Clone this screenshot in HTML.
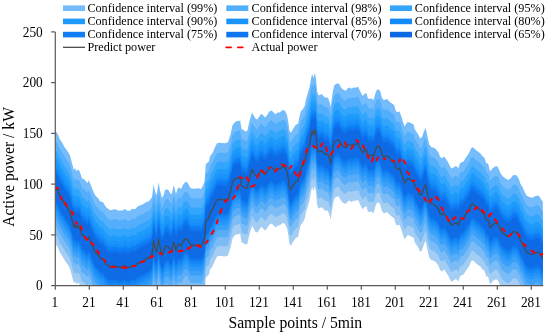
<!DOCTYPE html>
<html><head><meta charset="utf-8"><title>Confidence interval chart</title>
<style>
html,body{margin:0;padding:0;background:#fff;}
body{width:550px;height:335px;overflow:hidden;}
svg{display:block;}
svg text{font-family:"Liberation Serif","Times New Roman",serif;fill:#000;}
.leg text{font-size:12.2px;}
.tick text{font-size:13.33px;}
.title{font-size:15.7px;}
</style></head><body>
<svg width="550" height="335" viewBox="0 0 550 335">
<rect width="550" height="335" fill="#fff"/>
<defs><filter id="soft" x="-2%" y="-5%" width="104%" height="110%"><feGaussianBlur stdDeviation="0.45"/></filter><clipPath id="plot"><rect x="55.3" y="20" width="487.9" height="265.6"/></clipPath></defs>
<g clip-path="url(#plot)">
<g filter="url(#soft)">
<polygon fill="#74bcfc" points="55.6,187.9 57.8,190.7 59.7,195.8 62.3,199.7 64.8,204.2 68.0,208.7 69.9,212.0 71.2,216.5 72.5,221.6 73.8,226.8 75.1,224.8 76.3,228.0 77.6,226.1 79.3,227.4 80.6,230.6 81.9,235.1 84.0,235.7 86.0,238.3 87.5,239.6 88.8,237.0 90.1,240.2 91.7,244.1 93.0,247.3 94.3,250.5 96.2,253.1 98.2,255.0 100.0,258.0 103.0,259.0 106.0,264.0 110.0,267.0 115.0,266.0 119.0,267.4 123.0,267.0 125.0,265.4 127.0,267.4 130.0,267.4 132.0,265.4 135.0,266.0 138.0,263.0 143.0,261.0 146.0,259.0 149.0,258.0 152.0,254.0 153.6,241.0 155.0,248.0 156.6,252.0 158.6,239.0 160.0,247.0 162.0,255.0 163.6,252.0 165.0,247.0 167.0,246.0 169.0,247.4 170.6,251.0 172.0,250.0 173.6,242.0 174.6,245.0 176.0,251.0 177.4,246.0 179.0,244.0 181.0,246.0 183.0,241.5 185.0,239.0 187.0,238.6 189.0,242.0 190.5,245.0 194.0,245.5 199.0,245.0 201.0,246.0 203.2,242.0 204.6,238.0 205.8,221.0 209.0,218.0 210.0,213.0 212.4,210.0 215.0,204.0 217.0,200.0 220.0,199.4 225.0,200.0 228.0,199.0 229.6,194.0 230.6,191.0 232.5,182.0 235.0,178.7 237.6,177.8 240.2,177.5 241.5,185.8 244.0,187.0 246.0,188.4 247.5,187.0 248.8,180.7 250.5,174.3 252.1,169.4 253.7,172.3 255.6,175.5 257.3,176.2 259.4,173.0 261.4,170.4 263.3,172.3 265.2,174.3 267.2,171.7 269.1,168.5 271.6,167.2 273.6,169.1 275.5,171.0 277.4,169.4 280.0,168.9 281.9,167.2 283.5,166.6 285.1,167.8 287.0,171.7 288.3,178.7 289.4,187.1 290.9,189.7 292.2,187.1 294.1,183.9 296.0,181.3 298.0,180.7 299.6,173.0 300.9,168.0 302.8,166.0 304.8,162.2 306.0,155.8 308.0,149.4 309.5,144.3 310.8,136.6 312.1,130.4 313.4,134.6 315.0,129.5 316.1,136.6 317.0,147.5 318.0,151.3 319.5,152.0 321.5,150.7 323.6,152.6 325.3,154.5 327.2,153.9 328.5,155.8 329.8,159.7 330.8,163.5 331.7,155.8 333.0,147.5 334.3,142.3 336.2,140.4 338.8,140.1 340.3,143.0 342.0,145.5 343.9,146.8 345.8,147.5 347.8,144.9 349.7,144.3 351.4,145.5 353.5,144.3 355.6,144.4 358.1,143.5 360.1,148.0 362.6,152.8 364.6,150.5 366.5,149.9 367.8,155.0 369.7,155.7 371.6,155.0 373.5,157.0 375.1,151.2 376.7,146.7 378.7,146.0 380.2,148.0 381.9,154.4 383.8,157.0 385.7,156.3 387.0,155.7 388.9,157.6 390.9,159.5 392.8,160.8 394.3,162.1 395.4,166.6 396.9,169.0 399.5,168.3 401.2,172.8 403.0,178.6 404.6,183.1 406.3,180.5 407.8,178.6 409.8,179.3 411.7,180.3 413.6,181.2 414.9,186.3 416.8,188.9 418.4,191.4 420.0,195.3 422.0,194.0 423.9,188.2 425.6,184.4 426.7,189.7 428.0,195.8 429.3,201.3 431.4,203.9 434.0,204.4 436.6,206.7 438.5,209.3 440.1,213.7 441.9,215.0 444.3,213.1 446.2,216.3 448.1,218.9 449.6,222.1 451.3,225.3 453.2,224.4 455.8,222.7 457.1,223.4 458.4,225.3 459.9,220.2 461.6,218.9 463.5,218.2 465.4,215.0 467.4,212.1 469.3,209.3 471.0,205.1 472.5,203.9 474.4,205.1 476.3,207.3 478.9,209.0 480.8,210.6 482.6,213.2 484.3,214.2 486.3,220.0 488.1,220.2 489.6,226.5 490.5,227.9 492.3,225.1 494.9,223.2 497.3,223.0 499.0,226.2 500.5,230.0 502.9,233.2 505.6,235.3 508.2,236.7 510.5,235.1 512.7,232.1 514.8,231.5 517.1,232.7 519.0,236.0 520.4,240.4 522.5,243.6 524.3,248.0 526.5,252.1 529.2,253.8 532.5,254.5 535.3,252.7 538.1,252.1 539.7,253.8 541.4,256.5 542.8,258.5 542.8,201.8 541.4,199.8 539.7,197.1 538.1,195.4 535.3,196.0 532.5,197.8 529.2,197.1 526.5,195.4 524.3,191.3 522.5,186.9 520.4,183.7 519.0,179.3 517.1,176.0 514.8,174.8 512.7,175.4 510.5,178.4 508.2,180.0 505.6,178.6 502.9,176.5 500.5,173.3 499.0,169.5 497.3,166.3 494.9,166.5 492.3,168.4 490.5,171.2 489.6,169.8 488.1,163.5 486.3,163.3 484.3,157.5 482.6,156.5 480.8,153.9 478.9,152.3 476.3,150.6 474.4,148.4 472.5,147.2 471.0,148.4 469.3,152.6 467.4,155.4 465.4,158.3 463.5,161.5 461.6,162.2 459.9,163.5 458.4,168.6 457.1,166.7 455.8,166.0 453.2,167.7 451.3,168.6 449.6,165.4 448.1,162.2 446.2,159.6 444.3,156.4 441.9,158.3 440.1,157.0 438.5,152.6 436.6,150.0 434.0,147.7 431.4,147.2 429.3,144.6 428.0,139.1 426.7,133.0 425.6,127.7 423.9,131.5 422.0,137.3 420.0,138.6 418.4,134.7 416.8,132.2 414.9,129.6 413.6,124.5 411.7,123.6 409.8,122.6 407.8,121.9 406.3,123.8 404.6,126.4 403.0,121.9 401.2,116.1 399.5,111.6 396.9,112.3 395.4,109.9 394.3,105.4 392.8,104.1 390.9,102.8 388.9,100.9 387.0,99.0 385.7,99.6 383.8,100.3 381.9,97.7 380.2,91.3 378.7,89.3 376.7,90.0 375.1,94.5 373.5,100.3 371.6,98.3 369.7,99.0 367.8,98.3 366.5,93.2 364.6,93.8 362.6,96.1 360.1,91.3 358.1,86.8 355.6,87.7 353.5,87.6 351.4,88.8 349.7,87.6 347.8,88.2 345.8,90.8 343.9,90.1 342.0,88.8 340.3,86.3 338.8,83.4 336.2,83.7 334.3,85.6 333.0,90.8 331.7,99.1 330.8,106.8 329.8,103.0 328.5,99.1 327.2,97.2 325.3,97.8 323.6,95.9 321.5,94.0 319.5,95.3 318.0,94.6 317.0,90.8 316.1,79.9 315.0,72.8 313.4,77.9 312.1,73.7 310.8,79.9 309.5,87.6 308.0,92.7 306.0,99.1 304.8,105.5 302.8,109.3 300.9,111.3 299.6,116.3 298.0,124.0 296.0,124.6 294.1,127.2 292.2,130.4 290.9,133.0 289.4,130.4 288.3,122.0 287.0,115.0 285.1,111.1 283.5,109.9 281.9,110.5 280.0,112.2 277.4,112.7 275.5,114.3 273.6,112.4 271.6,110.5 269.1,111.8 267.2,115.0 265.2,117.6 263.3,115.6 261.4,113.7 259.4,116.3 257.3,119.5 255.6,118.8 253.7,115.6 252.1,112.7 250.5,117.6 248.8,124.0 247.5,130.3 246.0,131.7 244.0,130.3 241.5,129.1 240.2,120.8 237.6,121.1 235.0,122.0 232.5,125.3 230.6,134.3 229.6,137.3 228.0,142.3 225.0,143.3 220.0,142.7 217.0,143.3 215.0,147.3 212.4,153.3 210.0,156.3 209.0,161.3 205.8,164.3 204.6,181.3 203.2,185.3 201.0,189.3 199.0,188.3 194.0,188.8 190.5,188.3 189.0,185.3 187.0,181.9 185.0,182.3 183.0,184.8 181.0,189.3 179.0,187.3 177.4,189.3 176.0,194.3 174.6,188.3 173.6,185.3 172.0,193.3 170.6,194.3 169.0,190.7 167.0,189.3 165.0,190.3 163.6,195.3 162.0,198.3 160.0,190.3 158.6,182.3 156.6,195.3 155.0,191.3 153.6,184.3 152.0,197.3 149.0,201.3 146.0,202.3 143.0,204.3 138.0,206.3 135.0,209.3 132.0,208.7 130.0,210.7 127.0,210.7 125.0,208.7 123.0,210.3 119.0,210.7 115.0,209.3 110.0,210.3 106.0,207.3 103.0,202.3 100.0,201.3 98.2,198.3 96.2,196.4 94.3,193.8 93.0,190.6 91.7,187.4 90.1,183.5 88.8,180.3 87.5,182.9 86.0,181.6 84.0,179.0 81.9,178.4 80.6,173.9 79.3,170.7 77.6,169.4 76.3,171.3 75.1,168.1 73.8,170.1 72.5,164.9 71.2,159.8 69.9,155.3 68.0,152.0 64.8,147.5 62.3,143.0 59.7,139.1 57.8,134.0 55.6,131.2"/>
<polygon fill="#52affc" points="55.6,187.9 57.8,190.7 59.7,195.8 62.3,199.7 64.8,204.2 68.0,208.7 69.9,212.0 71.2,216.5 72.5,221.6 73.8,226.8 75.1,224.8 76.3,228.0 77.6,226.1 79.3,227.4 80.6,230.6 81.9,235.1 84.0,235.7 86.0,238.3 87.5,239.6 88.8,237.0 90.1,240.2 91.7,244.1 93.0,247.3 94.3,250.5 96.2,253.1 98.2,255.0 100.0,258.0 103.0,259.0 106.0,264.0 110.0,267.0 115.0,266.0 119.0,267.4 123.0,267.0 125.0,265.4 127.0,267.4 130.0,267.4 132.0,265.4 135.0,266.0 138.0,263.0 143.0,261.0 146.0,259.0 149.0,258.0 152.0,254.0 153.6,241.0 155.0,248.0 156.6,252.0 158.6,239.0 160.0,247.0 162.0,255.0 163.6,252.0 165.0,247.0 167.0,246.0 169.0,247.4 170.6,251.0 172.0,250.0 173.6,242.0 174.6,245.0 176.0,251.0 177.4,246.0 179.0,244.0 181.0,246.0 183.0,241.5 185.0,239.0 187.0,238.6 189.0,242.0 190.5,245.0 194.0,245.5 199.0,245.0 201.0,246.0 203.2,242.0 204.6,238.0 205.8,221.0 209.0,218.0 210.0,213.0 212.4,210.0 215.0,204.0 217.0,200.0 220.0,199.4 225.0,200.0 228.0,199.0 229.6,194.0 230.6,191.0 232.5,182.0 235.0,178.7 237.6,177.8 240.2,177.5 241.5,185.8 244.0,187.0 246.0,188.4 247.5,187.0 248.8,180.7 250.5,174.3 252.1,169.4 253.7,172.3 255.6,175.5 257.3,176.2 259.4,173.0 261.4,170.4 263.3,172.3 265.2,174.3 267.2,171.7 269.1,168.5 271.6,167.2 273.6,169.1 275.5,171.0 277.4,169.4 280.0,168.9 281.9,167.2 283.5,166.6 285.1,167.8 287.0,171.7 288.3,178.7 289.4,187.1 290.9,189.7 292.2,187.1 294.1,183.9 296.0,181.3 298.0,180.7 299.6,173.0 300.9,168.0 302.8,166.0 304.8,162.2 306.0,155.8 308.0,149.4 309.5,144.3 310.8,136.6 312.1,130.4 313.4,134.6 315.0,129.5 316.1,136.6 317.0,147.5 318.0,151.3 319.5,152.0 321.5,150.7 323.6,152.6 325.3,154.5 327.2,153.9 328.5,155.8 329.8,159.7 330.8,163.5 331.7,155.8 333.0,147.5 334.3,142.3 336.2,140.4 338.8,140.1 340.3,143.0 342.0,145.5 343.9,146.8 345.8,147.5 347.8,144.9 349.7,144.3 351.4,145.5 353.5,144.3 355.6,144.4 358.1,143.5 360.1,148.0 362.6,152.8 364.6,150.5 366.5,149.9 367.8,155.0 369.7,155.7 371.6,155.0 373.5,157.0 375.1,151.2 376.7,146.7 378.7,146.0 380.2,148.0 381.9,154.4 383.8,157.0 385.7,156.3 387.0,155.7 388.9,157.6 390.9,159.5 392.8,160.8 394.3,162.1 395.4,166.6 396.9,169.0 399.5,168.3 401.2,172.8 403.0,178.6 404.6,183.1 406.3,180.5 407.8,178.6 409.8,179.3 411.7,180.3 413.6,181.2 414.9,186.3 416.8,188.9 418.4,191.4 420.0,195.3 422.0,194.0 423.9,188.2 425.6,184.4 426.7,189.7 428.0,195.8 429.3,201.3 431.4,203.9 434.0,204.4 436.6,206.7 438.5,209.3 440.1,213.7 441.9,215.0 444.3,213.1 446.2,216.3 448.1,218.9 449.6,222.1 451.3,225.3 453.2,224.4 455.8,222.7 457.1,223.4 458.4,225.3 459.9,220.2 461.6,218.9 463.5,218.2 465.4,215.0 467.4,212.1 469.3,209.3 471.0,205.1 472.5,203.9 474.4,205.1 476.3,207.3 478.9,209.0 480.8,210.6 482.6,213.2 484.3,214.2 486.3,220.0 488.1,220.2 489.6,226.5 490.5,227.9 492.3,225.1 494.9,223.2 497.3,223.0 499.0,226.2 500.5,230.0 502.9,233.2 505.6,235.3 508.2,236.7 510.5,235.1 512.7,232.1 514.8,231.5 517.1,232.7 519.0,236.0 520.4,240.4 522.5,243.6 524.3,248.0 526.5,252.1 529.2,253.8 532.5,254.5 535.3,252.7 538.1,252.1 539.7,253.8 541.4,256.5 542.8,258.5 542.8,211.6 541.4,209.6 539.7,206.9 538.1,205.2 535.3,205.8 532.5,207.6 529.2,206.9 526.5,205.2 524.3,201.1 522.5,196.7 520.4,193.5 519.0,189.1 517.1,185.8 514.8,184.6 512.7,185.2 510.5,188.2 508.2,189.8 505.6,188.4 502.9,186.3 500.5,183.1 499.0,179.3 497.3,176.1 494.9,176.3 492.3,178.2 490.5,181.0 489.6,179.6 488.1,173.3 486.3,173.1 484.3,167.3 482.6,166.3 480.8,163.7 478.9,162.1 476.3,160.4 474.4,158.2 472.5,157.0 471.0,158.2 469.3,162.4 467.4,165.2 465.4,168.1 463.5,171.3 461.6,172.0 459.9,173.3 458.4,178.4 457.1,176.5 455.8,175.8 453.2,177.5 451.3,178.4 449.6,175.2 448.1,172.0 446.2,169.4 444.3,166.2 441.9,168.1 440.1,166.8 438.5,162.4 436.6,159.8 434.0,157.5 431.4,157.0 429.3,154.4 428.0,148.9 426.7,142.8 425.6,137.5 423.9,141.3 422.0,147.1 420.0,148.4 418.4,144.5 416.8,142.0 414.9,139.4 413.6,134.3 411.7,133.4 409.8,132.4 407.8,131.7 406.3,133.6 404.6,136.2 403.0,131.7 401.2,125.9 399.5,121.4 396.9,122.1 395.4,119.7 394.3,115.2 392.8,113.9 390.9,112.6 388.9,110.7 387.0,108.8 385.7,109.4 383.8,110.1 381.9,107.5 380.2,101.1 378.7,99.1 376.7,99.8 375.1,104.3 373.5,110.1 371.6,108.1 369.7,108.8 367.8,108.1 366.5,103.0 364.6,103.6 362.6,105.9 360.1,101.1 358.1,96.6 355.6,97.5 353.5,97.4 351.4,98.6 349.7,97.4 347.8,98.0 345.8,100.6 343.9,99.9 342.0,98.6 340.3,96.1 338.8,93.2 336.2,93.5 334.3,95.4 333.0,100.6 331.7,108.9 330.8,116.6 329.8,112.8 328.5,108.9 327.2,107.0 325.3,107.6 323.6,105.7 321.5,103.8 319.5,105.1 318.0,104.4 317.0,100.6 316.1,89.7 315.0,82.6 313.4,87.7 312.1,83.5 310.8,89.7 309.5,97.4 308.0,102.5 306.0,108.9 304.8,115.3 302.8,119.1 300.9,121.1 299.6,126.1 298.0,133.8 296.0,134.4 294.1,137.0 292.2,140.2 290.9,142.8 289.4,140.2 288.3,131.8 287.0,124.8 285.1,120.9 283.5,119.7 281.9,120.3 280.0,122.0 277.4,122.5 275.5,124.1 273.6,122.2 271.6,120.3 269.1,121.6 267.2,124.8 265.2,127.4 263.3,125.4 261.4,123.5 259.4,126.1 257.3,129.3 255.6,128.6 253.7,125.4 252.1,122.5 250.5,127.4 248.8,133.8 247.5,140.1 246.0,141.5 244.0,140.1 241.5,138.9 240.2,130.6 237.6,130.9 235.0,131.8 232.5,135.1 230.6,144.1 229.6,147.1 228.0,152.1 225.0,153.1 220.0,152.5 217.0,153.1 215.0,157.1 212.4,163.1 210.0,166.1 209.0,171.1 205.8,174.1 204.6,191.1 203.2,195.1 201.0,199.1 199.0,198.1 194.0,198.6 190.5,198.1 189.0,195.1 187.0,191.7 185.0,192.1 183.0,194.6 181.0,199.1 179.0,197.1 177.4,199.1 176.0,204.1 174.6,198.1 173.6,195.1 172.0,203.1 170.6,204.1 169.0,200.5 167.0,199.1 165.0,200.1 163.6,205.1 162.0,208.1 160.0,200.1 158.6,192.1 156.6,205.1 155.0,201.1 153.6,194.1 152.0,207.1 149.0,211.1 146.0,212.1 143.0,214.1 138.0,216.1 135.0,219.1 132.0,218.5 130.0,220.5 127.0,220.5 125.0,218.5 123.0,220.1 119.0,220.5 115.0,219.1 110.0,220.1 106.0,217.1 103.0,212.1 100.0,211.1 98.2,208.1 96.2,206.2 94.3,203.6 93.0,200.4 91.7,197.2 90.1,193.3 88.8,190.1 87.5,192.7 86.0,191.4 84.0,188.8 81.9,188.2 80.6,183.7 79.3,180.5 77.6,179.2 76.3,181.1 75.1,177.9 73.8,179.9 72.5,174.7 71.2,169.6 69.9,165.1 68.0,161.8 64.8,157.3 62.3,152.8 59.7,148.9 57.8,143.8 55.6,141.0"/>
<polygon fill="#33a5fc" points="55.6,187.9 57.8,190.7 59.7,195.8 62.3,199.7 64.8,204.2 68.0,208.7 69.9,212.0 71.2,216.5 72.5,221.6 73.8,226.8 75.1,224.8 76.3,228.0 77.6,226.1 79.3,227.4 80.6,230.6 81.9,235.1 84.0,235.7 86.0,238.3 87.5,239.6 88.8,237.0 90.1,240.2 91.7,244.1 93.0,247.3 94.3,250.5 96.2,253.1 98.2,255.0 100.0,258.0 103.0,259.0 106.0,264.0 110.0,267.0 115.0,266.0 119.0,267.4 123.0,267.0 125.0,265.4 127.0,267.4 130.0,267.4 132.0,265.4 135.0,266.0 138.0,263.0 143.0,261.0 146.0,259.0 149.0,258.0 152.0,254.0 153.6,241.0 155.0,248.0 156.6,252.0 158.6,239.0 160.0,247.0 162.0,255.0 163.6,252.0 165.0,247.0 167.0,246.0 169.0,247.4 170.6,251.0 172.0,250.0 173.6,242.0 174.6,245.0 176.0,251.0 177.4,246.0 179.0,244.0 181.0,246.0 183.0,241.5 185.0,239.0 187.0,238.6 189.0,242.0 190.5,245.0 194.0,245.5 199.0,245.0 201.0,246.0 203.2,242.0 204.6,238.0 205.8,221.0 209.0,218.0 210.0,213.0 212.4,210.0 215.0,204.0 217.0,200.0 220.0,199.4 225.0,200.0 228.0,199.0 229.6,194.0 230.6,191.0 232.5,182.0 235.0,178.7 237.6,177.8 240.2,177.5 241.5,185.8 244.0,187.0 246.0,188.4 247.5,187.0 248.8,180.7 250.5,174.3 252.1,169.4 253.7,172.3 255.6,175.5 257.3,176.2 259.4,173.0 261.4,170.4 263.3,172.3 265.2,174.3 267.2,171.7 269.1,168.5 271.6,167.2 273.6,169.1 275.5,171.0 277.4,169.4 280.0,168.9 281.9,167.2 283.5,166.6 285.1,167.8 287.0,171.7 288.3,178.7 289.4,187.1 290.9,189.7 292.2,187.1 294.1,183.9 296.0,181.3 298.0,180.7 299.6,173.0 300.9,168.0 302.8,166.0 304.8,162.2 306.0,155.8 308.0,149.4 309.5,144.3 310.8,136.6 312.1,130.4 313.4,134.6 315.0,129.5 316.1,136.6 317.0,147.5 318.0,151.3 319.5,152.0 321.5,150.7 323.6,152.6 325.3,154.5 327.2,153.9 328.5,155.8 329.8,159.7 330.8,163.5 331.7,155.8 333.0,147.5 334.3,142.3 336.2,140.4 338.8,140.1 340.3,143.0 342.0,145.5 343.9,146.8 345.8,147.5 347.8,144.9 349.7,144.3 351.4,145.5 353.5,144.3 355.6,144.4 358.1,143.5 360.1,148.0 362.6,152.8 364.6,150.5 366.5,149.9 367.8,155.0 369.7,155.7 371.6,155.0 373.5,157.0 375.1,151.2 376.7,146.7 378.7,146.0 380.2,148.0 381.9,154.4 383.8,157.0 385.7,156.3 387.0,155.7 388.9,157.6 390.9,159.5 392.8,160.8 394.3,162.1 395.4,166.6 396.9,169.0 399.5,168.3 401.2,172.8 403.0,178.6 404.6,183.1 406.3,180.5 407.8,178.6 409.8,179.3 411.7,180.3 413.6,181.2 414.9,186.3 416.8,188.9 418.4,191.4 420.0,195.3 422.0,194.0 423.9,188.2 425.6,184.4 426.7,189.7 428.0,195.8 429.3,201.3 431.4,203.9 434.0,204.4 436.6,206.7 438.5,209.3 440.1,213.7 441.9,215.0 444.3,213.1 446.2,216.3 448.1,218.9 449.6,222.1 451.3,225.3 453.2,224.4 455.8,222.7 457.1,223.4 458.4,225.3 459.9,220.2 461.6,218.9 463.5,218.2 465.4,215.0 467.4,212.1 469.3,209.3 471.0,205.1 472.5,203.9 474.4,205.1 476.3,207.3 478.9,209.0 480.8,210.6 482.6,213.2 484.3,214.2 486.3,220.0 488.1,220.2 489.6,226.5 490.5,227.9 492.3,225.1 494.9,223.2 497.3,223.0 499.0,226.2 500.5,230.0 502.9,233.2 505.6,235.3 508.2,236.7 510.5,235.1 512.7,232.1 514.8,231.5 517.1,232.7 519.0,236.0 520.4,240.4 522.5,243.6 524.3,248.0 526.5,252.1 529.2,253.8 532.5,254.5 535.3,252.7 538.1,252.1 539.7,253.8 541.4,256.5 542.8,258.5 542.8,220.7 541.4,218.7 539.7,216.0 538.1,214.3 535.3,214.9 532.5,216.7 529.2,216.0 526.5,214.3 524.3,210.2 522.5,205.8 520.4,202.6 519.0,198.2 517.1,194.9 514.8,193.7 512.7,194.3 510.5,197.3 508.2,198.9 505.6,197.5 502.9,195.4 500.5,192.2 499.0,188.4 497.3,185.2 494.9,185.4 492.3,187.3 490.5,190.1 489.6,188.7 488.1,182.4 486.3,182.2 484.3,176.4 482.6,175.4 480.8,172.8 478.9,171.2 476.3,169.5 474.4,167.3 472.5,166.1 471.0,167.3 469.3,171.5 467.4,174.3 465.4,177.2 463.5,180.4 461.6,181.1 459.9,182.4 458.4,187.5 457.1,185.6 455.8,184.9 453.2,186.6 451.3,187.5 449.6,184.3 448.1,181.1 446.2,178.5 444.3,175.3 441.9,177.2 440.1,175.9 438.5,171.5 436.6,168.9 434.0,166.6 431.4,166.1 429.3,163.5 428.0,158.0 426.7,151.9 425.6,146.6 423.9,150.4 422.0,156.2 420.0,157.5 418.4,153.6 416.8,151.1 414.9,148.5 413.6,143.4 411.7,142.5 409.8,141.5 407.8,140.8 406.3,142.7 404.6,145.3 403.0,140.8 401.2,135.0 399.5,130.5 396.9,131.2 395.4,128.8 394.3,124.3 392.8,123.0 390.9,121.7 388.9,119.8 387.0,117.9 385.7,118.5 383.8,119.2 381.9,116.6 380.2,110.2 378.7,108.2 376.7,108.9 375.1,113.4 373.5,119.2 371.6,117.2 369.7,117.9 367.8,117.2 366.5,112.1 364.6,112.7 362.6,115.0 360.1,110.2 358.1,105.7 355.6,106.6 353.5,106.5 351.4,107.7 349.7,106.5 347.8,107.1 345.8,109.7 343.9,109.0 342.0,107.7 340.3,105.2 338.8,102.3 336.2,102.6 334.3,104.5 333.0,109.7 331.7,118.0 330.8,125.7 329.8,121.9 328.5,118.0 327.2,116.1 325.3,116.7 323.6,114.8 321.5,112.9 319.5,114.2 318.0,113.5 317.0,109.7 316.1,98.8 315.0,91.7 313.4,96.8 312.1,92.6 310.8,98.8 309.5,106.5 308.0,111.6 306.0,118.0 304.8,124.4 302.8,128.2 300.9,130.2 299.6,135.2 298.0,142.9 296.0,143.5 294.1,146.1 292.2,149.3 290.9,151.9 289.4,149.3 288.3,140.9 287.0,133.9 285.1,130.0 283.5,128.8 281.9,129.4 280.0,131.1 277.4,131.6 275.5,133.2 273.6,131.3 271.6,129.4 269.1,130.7 267.2,133.9 265.2,136.5 263.3,134.5 261.4,132.6 259.4,135.2 257.3,138.4 255.6,137.7 253.7,134.5 252.1,131.6 250.5,136.5 248.8,142.9 247.5,149.2 246.0,150.6 244.0,149.2 241.5,148.0 240.2,139.7 237.6,140.0 235.0,140.9 232.5,144.2 230.6,153.2 229.6,156.2 228.0,161.2 225.0,162.2 220.0,161.6 217.0,162.2 215.0,166.2 212.4,172.2 210.0,175.2 209.0,180.2 205.8,183.2 204.6,200.2 203.2,204.2 201.0,208.2 199.0,207.2 194.0,207.7 190.5,207.2 189.0,204.2 187.0,200.8 185.0,201.2 183.0,203.7 181.0,208.2 179.0,206.2 177.4,208.2 176.0,213.2 174.6,207.2 173.6,204.2 172.0,212.2 170.6,213.2 169.0,209.6 167.0,208.2 165.0,209.2 163.6,214.2 162.0,217.2 160.0,209.2 158.6,201.2 156.6,214.2 155.0,210.2 153.6,203.2 152.0,216.2 149.0,220.2 146.0,221.2 143.0,223.2 138.0,225.2 135.0,228.2 132.0,227.6 130.0,229.6 127.0,229.6 125.0,227.6 123.0,229.2 119.0,229.6 115.0,228.2 110.0,229.2 106.0,226.2 103.0,221.2 100.0,220.2 98.2,217.2 96.2,215.3 94.3,212.7 93.0,209.5 91.7,206.3 90.1,202.4 88.8,199.2 87.5,201.8 86.0,200.5 84.0,197.9 81.9,197.3 80.6,192.8 79.3,189.6 77.6,188.3 76.3,190.2 75.1,187.0 73.8,189.0 72.5,183.8 71.2,178.7 69.9,174.2 68.0,170.9 64.8,166.4 62.3,161.9 59.7,158.0 57.8,152.9 55.6,150.1"/>
<polygon fill="#1e9bfc" points="55.6,187.9 57.8,190.7 59.7,195.8 62.3,199.7 64.8,204.2 68.0,208.7 69.9,212.0 71.2,216.5 72.5,221.6 73.8,226.8 75.1,224.8 76.3,228.0 77.6,226.1 79.3,227.4 80.6,230.6 81.9,235.1 84.0,235.7 86.0,238.3 87.5,239.6 88.8,237.0 90.1,240.2 91.7,244.1 93.0,247.3 94.3,250.5 96.2,253.1 98.2,255.0 100.0,258.0 103.0,259.0 106.0,264.0 110.0,267.0 115.0,266.0 119.0,267.4 123.0,267.0 125.0,265.4 127.0,267.4 130.0,267.4 132.0,265.4 135.0,266.0 138.0,263.0 143.0,261.0 146.0,259.0 149.0,258.0 152.0,254.0 153.6,241.0 155.0,248.0 156.6,252.0 158.6,239.0 160.0,247.0 162.0,255.0 163.6,252.0 165.0,247.0 167.0,246.0 169.0,247.4 170.6,251.0 172.0,250.0 173.6,242.0 174.6,245.0 176.0,251.0 177.4,246.0 179.0,244.0 181.0,246.0 183.0,241.5 185.0,239.0 187.0,238.6 189.0,242.0 190.5,245.0 194.0,245.5 199.0,245.0 201.0,246.0 203.2,242.0 204.6,238.0 205.8,221.0 209.0,218.0 210.0,213.0 212.4,210.0 215.0,204.0 217.0,200.0 220.0,199.4 225.0,200.0 228.0,199.0 229.6,194.0 230.6,191.0 232.5,182.0 235.0,178.7 237.6,177.8 240.2,177.5 241.5,185.8 244.0,187.0 246.0,188.4 247.5,187.0 248.8,180.7 250.5,174.3 252.1,169.4 253.7,172.3 255.6,175.5 257.3,176.2 259.4,173.0 261.4,170.4 263.3,172.3 265.2,174.3 267.2,171.7 269.1,168.5 271.6,167.2 273.6,169.1 275.5,171.0 277.4,169.4 280.0,168.9 281.9,167.2 283.5,166.6 285.1,167.8 287.0,171.7 288.3,178.7 289.4,187.1 290.9,189.7 292.2,187.1 294.1,183.9 296.0,181.3 298.0,180.7 299.6,173.0 300.9,168.0 302.8,166.0 304.8,162.2 306.0,155.8 308.0,149.4 309.5,144.3 310.8,136.6 312.1,130.4 313.4,134.6 315.0,129.5 316.1,136.6 317.0,147.5 318.0,151.3 319.5,152.0 321.5,150.7 323.6,152.6 325.3,154.5 327.2,153.9 328.5,155.8 329.8,159.7 330.8,163.5 331.7,155.8 333.0,147.5 334.3,142.3 336.2,140.4 338.8,140.1 340.3,143.0 342.0,145.5 343.9,146.8 345.8,147.5 347.8,144.9 349.7,144.3 351.4,145.5 353.5,144.3 355.6,144.4 358.1,143.5 360.1,148.0 362.6,152.8 364.6,150.5 366.5,149.9 367.8,155.0 369.7,155.7 371.6,155.0 373.5,157.0 375.1,151.2 376.7,146.7 378.7,146.0 380.2,148.0 381.9,154.4 383.8,157.0 385.7,156.3 387.0,155.7 388.9,157.6 390.9,159.5 392.8,160.8 394.3,162.1 395.4,166.6 396.9,169.0 399.5,168.3 401.2,172.8 403.0,178.6 404.6,183.1 406.3,180.5 407.8,178.6 409.8,179.3 411.7,180.3 413.6,181.2 414.9,186.3 416.8,188.9 418.4,191.4 420.0,195.3 422.0,194.0 423.9,188.2 425.6,184.4 426.7,189.7 428.0,195.8 429.3,201.3 431.4,203.9 434.0,204.4 436.6,206.7 438.5,209.3 440.1,213.7 441.9,215.0 444.3,213.1 446.2,216.3 448.1,218.9 449.6,222.1 451.3,225.3 453.2,224.4 455.8,222.7 457.1,223.4 458.4,225.3 459.9,220.2 461.6,218.9 463.5,218.2 465.4,215.0 467.4,212.1 469.3,209.3 471.0,205.1 472.5,203.9 474.4,205.1 476.3,207.3 478.9,209.0 480.8,210.6 482.6,213.2 484.3,214.2 486.3,220.0 488.1,220.2 489.6,226.5 490.5,227.9 492.3,225.1 494.9,223.2 497.3,223.0 499.0,226.2 500.5,230.0 502.9,233.2 505.6,235.3 508.2,236.7 510.5,235.1 512.7,232.1 514.8,231.5 517.1,232.7 519.0,236.0 520.4,240.4 522.5,243.6 524.3,248.0 526.5,252.1 529.2,253.8 532.5,254.5 535.3,252.7 538.1,252.1 539.7,253.8 541.4,256.5 542.8,258.5 542.8,227.9 541.4,225.9 539.7,223.2 538.1,221.5 535.3,222.1 532.5,223.9 529.2,223.2 526.5,221.5 524.3,217.4 522.5,213.0 520.4,209.8 519.0,205.4 517.1,202.1 514.8,200.9 512.7,201.5 510.5,204.5 508.2,206.1 505.6,204.7 502.9,202.6 500.5,199.4 499.0,195.6 497.3,192.4 494.9,192.6 492.3,194.5 490.5,197.3 489.6,195.9 488.1,189.6 486.3,189.4 484.3,183.6 482.6,182.6 480.8,180.0 478.9,178.4 476.3,176.7 474.4,174.5 472.5,173.3 471.0,174.5 469.3,178.7 467.4,181.5 465.4,184.4 463.5,187.6 461.6,188.3 459.9,189.6 458.4,194.7 457.1,192.8 455.8,192.1 453.2,193.8 451.3,194.7 449.6,191.5 448.1,188.3 446.2,185.7 444.3,182.5 441.9,184.4 440.1,183.1 438.5,178.7 436.6,176.1 434.0,173.8 431.4,173.3 429.3,170.7 428.0,165.2 426.7,159.1 425.6,153.8 423.9,157.6 422.0,163.4 420.0,164.7 418.4,160.8 416.8,158.3 414.9,155.7 413.6,150.6 411.7,149.7 409.8,148.7 407.8,148.0 406.3,149.9 404.6,152.5 403.0,148.0 401.2,142.2 399.5,137.7 396.9,138.4 395.4,136.0 394.3,131.5 392.8,130.2 390.9,128.9 388.9,127.0 387.0,125.1 385.7,125.7 383.8,126.4 381.9,123.8 380.2,117.4 378.7,115.4 376.7,116.1 375.1,120.6 373.5,126.4 371.6,124.4 369.7,125.1 367.8,124.4 366.5,119.3 364.6,119.9 362.6,122.2 360.1,117.4 358.1,112.9 355.6,113.8 353.5,113.7 351.4,114.9 349.7,113.7 347.8,114.3 345.8,116.9 343.9,116.2 342.0,114.9 340.3,112.4 338.8,109.5 336.2,109.8 334.3,111.7 333.0,116.9 331.7,125.2 330.8,132.9 329.8,129.1 328.5,125.2 327.2,123.3 325.3,123.9 323.6,122.0 321.5,120.1 319.5,121.4 318.0,120.7 317.0,116.9 316.1,106.0 315.0,98.9 313.4,104.0 312.1,99.8 310.8,106.0 309.5,113.7 308.0,118.8 306.0,125.2 304.8,131.6 302.8,135.4 300.9,137.4 299.6,142.4 298.0,150.1 296.0,150.7 294.1,153.3 292.2,156.5 290.9,159.1 289.4,156.5 288.3,148.1 287.0,141.1 285.1,137.2 283.5,136.0 281.9,136.6 280.0,138.3 277.4,138.8 275.5,140.4 273.6,138.5 271.6,136.6 269.1,137.9 267.2,141.1 265.2,143.7 263.3,141.7 261.4,139.8 259.4,142.4 257.3,145.6 255.6,144.9 253.7,141.7 252.1,138.8 250.5,143.7 248.8,150.1 247.5,156.4 246.0,157.8 244.0,156.4 241.5,155.2 240.2,146.9 237.6,147.2 235.0,148.1 232.5,151.4 230.6,160.4 229.6,163.4 228.0,168.4 225.0,169.4 220.0,168.8 217.0,169.4 215.0,173.4 212.4,179.4 210.0,182.4 209.0,187.4 205.8,190.4 204.6,207.4 203.2,211.4 201.0,215.4 199.0,214.4 194.0,214.9 190.5,214.4 189.0,211.4 187.0,208.0 185.0,208.4 183.0,210.9 181.0,215.4 179.0,213.4 177.4,215.4 176.0,220.4 174.6,214.4 173.6,211.4 172.0,219.4 170.6,220.4 169.0,216.8 167.0,215.4 165.0,216.4 163.6,221.4 162.0,224.4 160.0,216.4 158.6,208.4 156.6,221.4 155.0,217.4 153.6,210.4 152.0,223.4 149.0,227.4 146.0,228.4 143.0,230.4 138.0,232.4 135.0,235.4 132.0,234.8 130.0,236.8 127.0,236.8 125.0,234.8 123.0,236.4 119.0,236.8 115.0,235.4 110.0,236.4 106.0,233.4 103.0,228.4 100.0,227.4 98.2,224.4 96.2,222.5 94.3,219.9 93.0,216.7 91.7,213.5 90.1,209.6 88.8,206.4 87.5,209.0 86.0,207.7 84.0,205.1 81.9,204.5 80.6,200.0 79.3,196.8 77.6,195.5 76.3,197.4 75.1,194.2 73.8,196.2 72.5,191.0 71.2,185.9 69.9,181.4 68.0,178.1 64.8,173.6 62.3,169.1 59.7,165.2 57.8,160.1 55.6,157.3"/>
<polygon fill="#1a93fb" points="55.6,187.9 57.8,190.7 59.7,195.8 62.3,199.7 64.8,204.2 68.0,208.7 69.9,212.0 71.2,216.5 72.5,221.6 73.8,226.8 75.1,224.8 76.3,228.0 77.6,226.1 79.3,227.4 80.6,230.6 81.9,235.1 84.0,235.7 86.0,238.3 87.5,239.6 88.8,237.0 90.1,240.2 91.7,244.1 93.0,247.3 94.3,250.5 96.2,253.1 98.2,255.0 100.0,258.0 103.0,259.0 106.0,264.0 110.0,267.0 115.0,266.0 119.0,267.4 123.0,267.0 125.0,265.4 127.0,267.4 130.0,267.4 132.0,265.4 135.0,266.0 138.0,263.0 143.0,261.0 146.0,259.0 149.0,258.0 152.0,254.0 153.6,241.0 155.0,248.0 156.6,252.0 158.6,239.0 160.0,247.0 162.0,255.0 163.6,252.0 165.0,247.0 167.0,246.0 169.0,247.4 170.6,251.0 172.0,250.0 173.6,242.0 174.6,245.0 176.0,251.0 177.4,246.0 179.0,244.0 181.0,246.0 183.0,241.5 185.0,239.0 187.0,238.6 189.0,242.0 190.5,245.0 194.0,245.5 199.0,245.0 201.0,246.0 203.2,242.0 204.6,238.0 205.8,221.0 209.0,218.0 210.0,213.0 212.4,210.0 215.0,204.0 217.0,200.0 220.0,199.4 225.0,200.0 228.0,199.0 229.6,194.0 230.6,191.0 232.5,182.0 235.0,178.7 237.6,177.8 240.2,177.5 241.5,185.8 244.0,187.0 246.0,188.4 247.5,187.0 248.8,180.7 250.5,174.3 252.1,169.4 253.7,172.3 255.6,175.5 257.3,176.2 259.4,173.0 261.4,170.4 263.3,172.3 265.2,174.3 267.2,171.7 269.1,168.5 271.6,167.2 273.6,169.1 275.5,171.0 277.4,169.4 280.0,168.9 281.9,167.2 283.5,166.6 285.1,167.8 287.0,171.7 288.3,178.7 289.4,187.1 290.9,189.7 292.2,187.1 294.1,183.9 296.0,181.3 298.0,180.7 299.6,173.0 300.9,168.0 302.8,166.0 304.8,162.2 306.0,155.8 308.0,149.4 309.5,144.3 310.8,136.6 312.1,130.4 313.4,134.6 315.0,129.5 316.1,136.6 317.0,147.5 318.0,151.3 319.5,152.0 321.5,150.7 323.6,152.6 325.3,154.5 327.2,153.9 328.5,155.8 329.8,159.7 330.8,163.5 331.7,155.8 333.0,147.5 334.3,142.3 336.2,140.4 338.8,140.1 340.3,143.0 342.0,145.5 343.9,146.8 345.8,147.5 347.8,144.9 349.7,144.3 351.4,145.5 353.5,144.3 355.6,144.4 358.1,143.5 360.1,148.0 362.6,152.8 364.6,150.5 366.5,149.9 367.8,155.0 369.7,155.7 371.6,155.0 373.5,157.0 375.1,151.2 376.7,146.7 378.7,146.0 380.2,148.0 381.9,154.4 383.8,157.0 385.7,156.3 387.0,155.7 388.9,157.6 390.9,159.5 392.8,160.8 394.3,162.1 395.4,166.6 396.9,169.0 399.5,168.3 401.2,172.8 403.0,178.6 404.6,183.1 406.3,180.5 407.8,178.6 409.8,179.3 411.7,180.3 413.6,181.2 414.9,186.3 416.8,188.9 418.4,191.4 420.0,195.3 422.0,194.0 423.9,188.2 425.6,184.4 426.7,189.7 428.0,195.8 429.3,201.3 431.4,203.9 434.0,204.4 436.6,206.7 438.5,209.3 440.1,213.7 441.9,215.0 444.3,213.1 446.2,216.3 448.1,218.9 449.6,222.1 451.3,225.3 453.2,224.4 455.8,222.7 457.1,223.4 458.4,225.3 459.9,220.2 461.6,218.9 463.5,218.2 465.4,215.0 467.4,212.1 469.3,209.3 471.0,205.1 472.5,203.9 474.4,205.1 476.3,207.3 478.9,209.0 480.8,210.6 482.6,213.2 484.3,214.2 486.3,220.0 488.1,220.2 489.6,226.5 490.5,227.9 492.3,225.1 494.9,223.2 497.3,223.0 499.0,226.2 500.5,230.0 502.9,233.2 505.6,235.3 508.2,236.7 510.5,235.1 512.7,232.1 514.8,231.5 517.1,232.7 519.0,236.0 520.4,240.4 522.5,243.6 524.3,248.0 526.5,252.1 529.2,253.8 532.5,254.5 535.3,252.7 538.1,252.1 539.7,253.8 541.4,256.5 542.8,258.5 542.8,232.8 541.4,230.8 539.7,228.1 538.1,226.4 535.3,227.0 532.5,228.8 529.2,228.1 526.5,226.4 524.3,222.3 522.5,217.9 520.4,214.7 519.0,210.3 517.1,207.0 514.8,205.8 512.7,206.4 510.5,209.4 508.2,211.0 505.6,209.6 502.9,207.5 500.5,204.3 499.0,200.5 497.3,197.3 494.9,197.5 492.3,199.4 490.5,202.2 489.6,200.8 488.1,194.5 486.3,194.3 484.3,188.5 482.6,187.5 480.8,184.9 478.9,183.3 476.3,181.6 474.4,179.4 472.5,178.2 471.0,179.4 469.3,183.6 467.4,186.4 465.4,189.3 463.5,192.5 461.6,193.2 459.9,194.5 458.4,199.6 457.1,197.7 455.8,197.0 453.2,198.7 451.3,199.6 449.6,196.4 448.1,193.2 446.2,190.6 444.3,187.4 441.9,189.3 440.1,188.0 438.5,183.6 436.6,181.0 434.0,178.7 431.4,178.2 429.3,175.6 428.0,170.1 426.7,164.0 425.6,158.7 423.9,162.5 422.0,168.3 420.0,169.6 418.4,165.7 416.8,163.2 414.9,160.6 413.6,155.5 411.7,154.6 409.8,153.6 407.8,152.9 406.3,154.8 404.6,157.4 403.0,152.9 401.2,147.1 399.5,142.6 396.9,143.3 395.4,140.9 394.3,136.4 392.8,135.1 390.9,133.8 388.9,131.9 387.0,130.0 385.7,130.6 383.8,131.3 381.9,128.7 380.2,122.3 378.7,120.3 376.7,121.0 375.1,125.5 373.5,131.3 371.6,129.3 369.7,130.0 367.8,129.3 366.5,124.2 364.6,124.8 362.6,127.1 360.1,122.3 358.1,117.8 355.6,118.7 353.5,118.6 351.4,119.8 349.7,118.6 347.8,119.2 345.8,121.8 343.9,121.1 342.0,119.8 340.3,117.3 338.8,114.4 336.2,114.7 334.3,116.6 333.0,121.8 331.7,130.1 330.8,137.8 329.8,134.0 328.5,130.1 327.2,128.2 325.3,128.8 323.6,126.9 321.5,125.0 319.5,126.3 318.0,125.6 317.0,121.8 316.1,110.9 315.0,103.8 313.4,108.9 312.1,104.7 310.8,110.9 309.5,118.6 308.0,123.7 306.0,130.1 304.8,136.5 302.8,140.3 300.9,142.3 299.6,147.3 298.0,155.0 296.0,155.6 294.1,158.2 292.2,161.4 290.9,164.0 289.4,161.4 288.3,153.0 287.0,146.0 285.1,142.1 283.5,140.9 281.9,141.5 280.0,143.2 277.4,143.7 275.5,145.3 273.6,143.4 271.6,141.5 269.1,142.8 267.2,146.0 265.2,148.6 263.3,146.6 261.4,144.7 259.4,147.3 257.3,150.5 255.6,149.8 253.7,146.6 252.1,143.7 250.5,148.6 248.8,155.0 247.5,161.3 246.0,162.7 244.0,161.3 241.5,160.1 240.2,151.8 237.6,152.1 235.0,153.0 232.5,156.3 230.6,165.3 229.6,168.3 228.0,173.3 225.0,174.3 220.0,173.7 217.0,174.3 215.0,178.3 212.4,184.3 210.0,187.3 209.0,192.3 205.8,195.3 204.6,212.3 203.2,216.3 201.0,220.3 199.0,219.3 194.0,219.8 190.5,219.3 189.0,216.3 187.0,212.9 185.0,213.3 183.0,215.8 181.0,220.3 179.0,218.3 177.4,220.3 176.0,225.3 174.6,219.3 173.6,216.3 172.0,224.3 170.6,225.3 169.0,221.7 167.0,220.3 165.0,221.3 163.6,226.3 162.0,229.3 160.0,221.3 158.6,213.3 156.6,226.3 155.0,222.3 153.6,215.3 152.0,228.3 149.0,232.3 146.0,233.3 143.0,235.3 138.0,237.3 135.0,240.3 132.0,239.7 130.0,241.7 127.0,241.7 125.0,239.7 123.0,241.3 119.0,241.7 115.0,240.3 110.0,241.3 106.0,238.3 103.0,233.3 100.0,232.3 98.2,229.3 96.2,227.4 94.3,224.8 93.0,221.6 91.7,218.4 90.1,214.5 88.8,211.3 87.5,213.9 86.0,212.6 84.0,210.0 81.9,209.4 80.6,204.9 79.3,201.7 77.6,200.4 76.3,202.3 75.1,199.1 73.8,201.1 72.5,195.9 71.2,190.8 69.9,186.3 68.0,183.0 64.8,178.5 62.3,174.0 59.7,170.1 57.8,165.0 55.6,162.2"/>
<polygon fill="#148bfa" points="55.6,187.9 57.8,190.7 59.7,195.8 62.3,199.7 64.8,204.2 68.0,208.7 69.9,212.0 71.2,216.5 72.5,221.6 73.8,226.8 75.1,224.8 76.3,228.0 77.6,226.1 79.3,227.4 80.6,230.6 81.9,235.1 84.0,235.7 86.0,238.3 87.5,239.6 88.8,237.0 90.1,240.2 91.7,244.1 93.0,247.3 94.3,250.5 96.2,253.1 98.2,255.0 100.0,258.0 103.0,259.0 106.0,264.0 110.0,267.0 115.0,266.0 119.0,267.4 123.0,267.0 125.0,265.4 127.0,267.4 130.0,267.4 132.0,265.4 135.0,266.0 138.0,263.0 143.0,261.0 146.0,259.0 149.0,258.0 152.0,254.0 153.6,241.0 155.0,248.0 156.6,252.0 158.6,239.0 160.0,247.0 162.0,255.0 163.6,252.0 165.0,247.0 167.0,246.0 169.0,247.4 170.6,251.0 172.0,250.0 173.6,242.0 174.6,245.0 176.0,251.0 177.4,246.0 179.0,244.0 181.0,246.0 183.0,241.5 185.0,239.0 187.0,238.6 189.0,242.0 190.5,245.0 194.0,245.5 199.0,245.0 201.0,246.0 203.2,242.0 204.6,238.0 205.8,221.0 209.0,218.0 210.0,213.0 212.4,210.0 215.0,204.0 217.0,200.0 220.0,199.4 225.0,200.0 228.0,199.0 229.6,194.0 230.6,191.0 232.5,182.0 235.0,178.7 237.6,177.8 240.2,177.5 241.5,185.8 244.0,187.0 246.0,188.4 247.5,187.0 248.8,180.7 250.5,174.3 252.1,169.4 253.7,172.3 255.6,175.5 257.3,176.2 259.4,173.0 261.4,170.4 263.3,172.3 265.2,174.3 267.2,171.7 269.1,168.5 271.6,167.2 273.6,169.1 275.5,171.0 277.4,169.4 280.0,168.9 281.9,167.2 283.5,166.6 285.1,167.8 287.0,171.7 288.3,178.7 289.4,187.1 290.9,189.7 292.2,187.1 294.1,183.9 296.0,181.3 298.0,180.7 299.6,173.0 300.9,168.0 302.8,166.0 304.8,162.2 306.0,155.8 308.0,149.4 309.5,144.3 310.8,136.6 312.1,130.4 313.4,134.6 315.0,129.5 316.1,136.6 317.0,147.5 318.0,151.3 319.5,152.0 321.5,150.7 323.6,152.6 325.3,154.5 327.2,153.9 328.5,155.8 329.8,159.7 330.8,163.5 331.7,155.8 333.0,147.5 334.3,142.3 336.2,140.4 338.8,140.1 340.3,143.0 342.0,145.5 343.9,146.8 345.8,147.5 347.8,144.9 349.7,144.3 351.4,145.5 353.5,144.3 355.6,144.4 358.1,143.5 360.1,148.0 362.6,152.8 364.6,150.5 366.5,149.9 367.8,155.0 369.7,155.7 371.6,155.0 373.5,157.0 375.1,151.2 376.7,146.7 378.7,146.0 380.2,148.0 381.9,154.4 383.8,157.0 385.7,156.3 387.0,155.7 388.9,157.6 390.9,159.5 392.8,160.8 394.3,162.1 395.4,166.6 396.9,169.0 399.5,168.3 401.2,172.8 403.0,178.6 404.6,183.1 406.3,180.5 407.8,178.6 409.8,179.3 411.7,180.3 413.6,181.2 414.9,186.3 416.8,188.9 418.4,191.4 420.0,195.3 422.0,194.0 423.9,188.2 425.6,184.4 426.7,189.7 428.0,195.8 429.3,201.3 431.4,203.9 434.0,204.4 436.6,206.7 438.5,209.3 440.1,213.7 441.9,215.0 444.3,213.1 446.2,216.3 448.1,218.9 449.6,222.1 451.3,225.3 453.2,224.4 455.8,222.7 457.1,223.4 458.4,225.3 459.9,220.2 461.6,218.9 463.5,218.2 465.4,215.0 467.4,212.1 469.3,209.3 471.0,205.1 472.5,203.9 474.4,205.1 476.3,207.3 478.9,209.0 480.8,210.6 482.6,213.2 484.3,214.2 486.3,220.0 488.1,220.2 489.6,226.5 490.5,227.9 492.3,225.1 494.9,223.2 497.3,223.0 499.0,226.2 500.5,230.0 502.9,233.2 505.6,235.3 508.2,236.7 510.5,235.1 512.7,232.1 514.8,231.5 517.1,232.7 519.0,236.0 520.4,240.4 522.5,243.6 524.3,248.0 526.5,252.1 529.2,253.8 532.5,254.5 535.3,252.7 538.1,252.1 539.7,253.8 541.4,256.5 542.8,258.5 542.8,236.4 541.4,234.4 539.7,231.7 538.1,230.0 535.3,230.6 532.5,232.4 529.2,231.7 526.5,230.0 524.3,225.9 522.5,221.5 520.4,218.3 519.0,213.9 517.1,210.6 514.8,209.4 512.7,210.0 510.5,213.0 508.2,214.6 505.6,213.2 502.9,211.1 500.5,207.9 499.0,204.1 497.3,200.9 494.9,201.1 492.3,203.0 490.5,205.8 489.6,204.4 488.1,198.1 486.3,197.9 484.3,192.1 482.6,191.1 480.8,188.5 478.9,186.9 476.3,185.2 474.4,183.0 472.5,181.8 471.0,183.0 469.3,187.2 467.4,190.0 465.4,192.9 463.5,196.1 461.6,196.8 459.9,198.1 458.4,203.2 457.1,201.3 455.8,200.6 453.2,202.3 451.3,203.2 449.6,200.0 448.1,196.8 446.2,194.2 444.3,191.0 441.9,192.9 440.1,191.6 438.5,187.2 436.6,184.6 434.0,182.3 431.4,181.8 429.3,179.2 428.0,173.7 426.7,167.6 425.6,162.3 423.9,166.1 422.0,171.9 420.0,173.2 418.4,169.3 416.8,166.8 414.9,164.2 413.6,159.1 411.7,158.2 409.8,157.2 407.8,156.5 406.3,158.4 404.6,161.0 403.0,156.5 401.2,150.7 399.5,146.2 396.9,146.9 395.4,144.5 394.3,140.0 392.8,138.7 390.9,137.4 388.9,135.5 387.0,133.6 385.7,134.2 383.8,134.9 381.9,132.3 380.2,125.9 378.7,123.9 376.7,124.6 375.1,129.1 373.5,134.9 371.6,132.9 369.7,133.6 367.8,132.9 366.5,127.8 364.6,128.4 362.6,130.7 360.1,125.9 358.1,121.4 355.6,122.3 353.5,122.2 351.4,123.4 349.7,122.2 347.8,122.8 345.8,125.4 343.9,124.7 342.0,123.4 340.3,120.9 338.8,118.0 336.2,118.3 334.3,120.2 333.0,125.4 331.7,133.7 330.8,141.4 329.8,137.6 328.5,133.7 327.2,131.8 325.3,132.4 323.6,130.5 321.5,128.6 319.5,129.9 318.0,129.2 317.0,125.4 316.1,114.5 315.0,107.4 313.4,112.5 312.1,108.3 310.8,114.5 309.5,122.2 308.0,127.3 306.0,133.7 304.8,140.1 302.8,143.9 300.9,145.9 299.6,150.9 298.0,158.6 296.0,159.2 294.1,161.8 292.2,165.0 290.9,167.6 289.4,165.0 288.3,156.6 287.0,149.6 285.1,145.7 283.5,144.5 281.9,145.1 280.0,146.8 277.4,147.3 275.5,148.9 273.6,147.0 271.6,145.1 269.1,146.4 267.2,149.6 265.2,152.2 263.3,150.2 261.4,148.3 259.4,150.9 257.3,154.1 255.6,153.4 253.7,150.2 252.1,147.3 250.5,152.2 248.8,158.6 247.5,164.9 246.0,166.3 244.0,164.9 241.5,163.7 240.2,155.4 237.6,155.7 235.0,156.6 232.5,159.9 230.6,168.9 229.6,171.9 228.0,176.9 225.0,177.9 220.0,177.3 217.0,177.9 215.0,181.9 212.4,187.9 210.0,190.9 209.0,195.9 205.8,198.9 204.6,215.9 203.2,219.9 201.0,223.9 199.0,222.9 194.0,223.4 190.5,222.9 189.0,219.9 187.0,216.5 185.0,216.9 183.0,219.4 181.0,223.9 179.0,221.9 177.4,223.9 176.0,228.9 174.6,222.9 173.6,219.9 172.0,227.9 170.6,228.9 169.0,225.3 167.0,223.9 165.0,224.9 163.6,229.9 162.0,232.9 160.0,224.9 158.6,216.9 156.6,229.9 155.0,225.9 153.6,218.9 152.0,231.9 149.0,235.9 146.0,236.9 143.0,238.9 138.0,240.9 135.0,243.9 132.0,243.3 130.0,245.3 127.0,245.3 125.0,243.3 123.0,244.9 119.0,245.3 115.0,243.9 110.0,244.9 106.0,241.9 103.0,236.9 100.0,235.9 98.2,232.9 96.2,231.0 94.3,228.4 93.0,225.2 91.7,222.0 90.1,218.1 88.8,214.9 87.5,217.5 86.0,216.2 84.0,213.6 81.9,213.0 80.6,208.5 79.3,205.3 77.6,204.0 76.3,205.9 75.1,202.7 73.8,204.7 72.5,199.5 71.2,194.4 69.9,189.9 68.0,186.6 64.8,182.1 62.3,177.6 59.7,173.7 57.8,168.6 55.6,165.8"/>
<polygon fill="#107ff6" points="55.6,187.9 57.8,190.7 59.7,195.8 62.3,199.7 64.8,204.2 68.0,208.7 69.9,212.0 71.2,216.5 72.5,221.6 73.8,226.8 75.1,224.8 76.3,228.0 77.6,226.1 79.3,227.4 80.6,230.6 81.9,235.1 84.0,235.7 86.0,238.3 87.5,239.6 88.8,237.0 90.1,240.2 91.7,244.1 93.0,247.3 94.3,250.5 96.2,253.1 98.2,255.0 100.0,258.0 103.0,259.0 106.0,264.0 110.0,267.0 115.0,266.0 119.0,267.4 123.0,267.0 125.0,265.4 127.0,267.4 130.0,267.4 132.0,265.4 135.0,266.0 138.0,263.0 143.0,261.0 146.0,259.0 149.0,258.0 152.0,254.0 153.6,241.0 155.0,248.0 156.6,252.0 158.6,239.0 160.0,247.0 162.0,255.0 163.6,252.0 165.0,247.0 167.0,246.0 169.0,247.4 170.6,251.0 172.0,250.0 173.6,242.0 174.6,245.0 176.0,251.0 177.4,246.0 179.0,244.0 181.0,246.0 183.0,241.5 185.0,239.0 187.0,238.6 189.0,242.0 190.5,245.0 194.0,245.5 199.0,245.0 201.0,246.0 203.2,242.0 204.6,238.0 205.8,221.0 209.0,218.0 210.0,213.0 212.4,210.0 215.0,204.0 217.0,200.0 220.0,199.4 225.0,200.0 228.0,199.0 229.6,194.0 230.6,191.0 232.5,182.0 235.0,178.7 237.6,177.8 240.2,177.5 241.5,185.8 244.0,187.0 246.0,188.4 247.5,187.0 248.8,180.7 250.5,174.3 252.1,169.4 253.7,172.3 255.6,175.5 257.3,176.2 259.4,173.0 261.4,170.4 263.3,172.3 265.2,174.3 267.2,171.7 269.1,168.5 271.6,167.2 273.6,169.1 275.5,171.0 277.4,169.4 280.0,168.9 281.9,167.2 283.5,166.6 285.1,167.8 287.0,171.7 288.3,178.7 289.4,187.1 290.9,189.7 292.2,187.1 294.1,183.9 296.0,181.3 298.0,180.7 299.6,173.0 300.9,168.0 302.8,166.0 304.8,162.2 306.0,155.8 308.0,149.4 309.5,144.3 310.8,136.6 312.1,130.4 313.4,134.6 315.0,129.5 316.1,136.6 317.0,147.5 318.0,151.3 319.5,152.0 321.5,150.7 323.6,152.6 325.3,154.5 327.2,153.9 328.5,155.8 329.8,159.7 330.8,163.5 331.7,155.8 333.0,147.5 334.3,142.3 336.2,140.4 338.8,140.1 340.3,143.0 342.0,145.5 343.9,146.8 345.8,147.5 347.8,144.9 349.7,144.3 351.4,145.5 353.5,144.3 355.6,144.4 358.1,143.5 360.1,148.0 362.6,152.8 364.6,150.5 366.5,149.9 367.8,155.0 369.7,155.7 371.6,155.0 373.5,157.0 375.1,151.2 376.7,146.7 378.7,146.0 380.2,148.0 381.9,154.4 383.8,157.0 385.7,156.3 387.0,155.7 388.9,157.6 390.9,159.5 392.8,160.8 394.3,162.1 395.4,166.6 396.9,169.0 399.5,168.3 401.2,172.8 403.0,178.6 404.6,183.1 406.3,180.5 407.8,178.6 409.8,179.3 411.7,180.3 413.6,181.2 414.9,186.3 416.8,188.9 418.4,191.4 420.0,195.3 422.0,194.0 423.9,188.2 425.6,184.4 426.7,189.7 428.0,195.8 429.3,201.3 431.4,203.9 434.0,204.4 436.6,206.7 438.5,209.3 440.1,213.7 441.9,215.0 444.3,213.1 446.2,216.3 448.1,218.9 449.6,222.1 451.3,225.3 453.2,224.4 455.8,222.7 457.1,223.4 458.4,225.3 459.9,220.2 461.6,218.9 463.5,218.2 465.4,215.0 467.4,212.1 469.3,209.3 471.0,205.1 472.5,203.9 474.4,205.1 476.3,207.3 478.9,209.0 480.8,210.6 482.6,213.2 484.3,214.2 486.3,220.0 488.1,220.2 489.6,226.5 490.5,227.9 492.3,225.1 494.9,223.2 497.3,223.0 499.0,226.2 500.5,230.0 502.9,233.2 505.6,235.3 508.2,236.7 510.5,235.1 512.7,232.1 514.8,231.5 517.1,232.7 519.0,236.0 520.4,240.4 522.5,243.6 524.3,248.0 526.5,252.1 529.2,253.8 532.5,254.5 535.3,252.7 538.1,252.1 539.7,253.8 541.4,256.5 542.8,258.5 542.8,239.3 541.4,237.3 539.7,234.6 538.1,232.9 535.3,233.5 532.5,235.3 529.2,234.6 526.5,232.9 524.3,228.8 522.5,224.4 520.4,221.2 519.0,216.8 517.1,213.5 514.8,212.3 512.7,212.9 510.5,215.9 508.2,217.5 505.6,216.1 502.9,214.0 500.5,210.8 499.0,207.0 497.3,203.8 494.9,204.0 492.3,205.9 490.5,208.7 489.6,207.3 488.1,201.0 486.3,200.8 484.3,195.0 482.6,194.0 480.8,191.4 478.9,189.8 476.3,188.1 474.4,185.9 472.5,184.7 471.0,185.9 469.3,190.1 467.4,192.9 465.4,195.8 463.5,199.0 461.6,199.7 459.9,201.0 458.4,206.1 457.1,204.2 455.8,203.5 453.2,205.2 451.3,206.1 449.6,202.9 448.1,199.7 446.2,197.1 444.3,193.9 441.9,195.8 440.1,194.5 438.5,190.1 436.6,187.5 434.0,185.2 431.4,184.7 429.3,182.1 428.0,176.6 426.7,170.5 425.6,165.2 423.9,169.0 422.0,174.8 420.0,176.1 418.4,172.2 416.8,169.7 414.9,167.1 413.6,162.0 411.7,161.1 409.8,160.1 407.8,159.4 406.3,161.3 404.6,163.9 403.0,159.4 401.2,153.6 399.5,149.1 396.9,149.8 395.4,147.4 394.3,142.9 392.8,141.6 390.9,140.3 388.9,138.4 387.0,136.5 385.7,137.1 383.8,137.8 381.9,135.2 380.2,128.8 378.7,126.8 376.7,127.5 375.1,132.0 373.5,137.8 371.6,135.8 369.7,136.5 367.8,135.8 366.5,130.7 364.6,131.3 362.6,133.6 360.1,128.8 358.1,124.3 355.6,125.2 353.5,125.1 351.4,126.3 349.7,125.1 347.8,125.7 345.8,128.3 343.9,127.6 342.0,126.3 340.3,123.8 338.8,120.9 336.2,121.2 334.3,123.1 333.0,128.3 331.7,136.6 330.8,144.3 329.8,140.5 328.5,136.6 327.2,134.7 325.3,135.3 323.6,133.4 321.5,131.5 319.5,132.8 318.0,132.1 317.0,128.3 316.1,117.4 315.0,110.3 313.4,115.4 312.1,111.2 310.8,117.4 309.5,125.1 308.0,130.2 306.0,136.6 304.8,143.0 302.8,146.8 300.9,148.8 299.6,153.8 298.0,161.5 296.0,162.1 294.1,164.7 292.2,167.9 290.9,170.5 289.4,167.9 288.3,159.5 287.0,152.5 285.1,148.6 283.5,147.4 281.9,148.0 280.0,149.7 277.4,150.2 275.5,151.8 273.6,149.9 271.6,148.0 269.1,149.3 267.2,152.5 265.2,155.1 263.3,153.1 261.4,151.2 259.4,153.8 257.3,157.0 255.6,156.3 253.7,153.1 252.1,150.2 250.5,155.1 248.8,161.5 247.5,167.8 246.0,169.2 244.0,167.8 241.5,166.6 240.2,158.3 237.6,158.6 235.0,159.5 232.5,162.8 230.6,171.8 229.6,174.8 228.0,179.8 225.0,180.8 220.0,180.2 217.0,180.8 215.0,184.8 212.4,190.8 210.0,193.8 209.0,198.8 205.8,201.8 204.6,218.8 203.2,222.8 201.0,226.8 199.0,225.8 194.0,226.3 190.5,225.8 189.0,222.8 187.0,219.4 185.0,219.8 183.0,222.3 181.0,226.8 179.0,224.8 177.4,226.8 176.0,231.8 174.6,225.8 173.6,222.8 172.0,230.8 170.6,231.8 169.0,228.2 167.0,226.8 165.0,227.8 163.6,232.8 162.0,235.8 160.0,227.8 158.6,219.8 156.6,232.8 155.0,228.8 153.6,221.8 152.0,234.8 149.0,238.8 146.0,239.8 143.0,241.8 138.0,243.8 135.0,246.8 132.0,246.2 130.0,248.2 127.0,248.2 125.0,246.2 123.0,247.8 119.0,248.2 115.0,246.8 110.0,247.8 106.0,244.8 103.0,239.8 100.0,238.8 98.2,235.8 96.2,233.9 94.3,231.3 93.0,228.1 91.7,224.9 90.1,221.0 88.8,217.8 87.5,220.4 86.0,219.1 84.0,216.5 81.9,215.9 80.6,211.4 79.3,208.2 77.6,206.9 76.3,208.8 75.1,205.6 73.8,207.6 72.5,202.4 71.2,197.3 69.9,192.8 68.0,189.5 64.8,185.0 62.3,180.5 59.7,176.6 57.8,171.5 55.6,168.7"/>
<polygon fill="#0d76f0" points="55.6,187.9 57.8,190.7 59.7,195.8 62.3,199.7 64.8,204.2 68.0,208.7 69.9,212.0 71.2,216.5 72.5,221.6 73.8,226.8 75.1,224.8 76.3,228.0 77.6,226.1 79.3,227.4 80.6,230.6 81.9,235.1 84.0,235.7 86.0,238.3 87.5,239.6 88.8,237.0 90.1,240.2 91.7,244.1 93.0,247.3 94.3,250.5 96.2,253.1 98.2,255.0 100.0,258.0 103.0,259.0 106.0,264.0 110.0,267.0 115.0,266.0 119.0,267.4 123.0,267.0 125.0,265.4 127.0,267.4 130.0,267.4 132.0,265.4 135.0,266.0 138.0,263.0 143.0,261.0 146.0,259.0 149.0,258.0 152.0,254.0 153.6,241.0 155.0,248.0 156.6,252.0 158.6,239.0 160.0,247.0 162.0,255.0 163.6,252.0 165.0,247.0 167.0,246.0 169.0,247.4 170.6,251.0 172.0,250.0 173.6,242.0 174.6,245.0 176.0,251.0 177.4,246.0 179.0,244.0 181.0,246.0 183.0,241.5 185.0,239.0 187.0,238.6 189.0,242.0 190.5,245.0 194.0,245.5 199.0,245.0 201.0,246.0 203.2,242.0 204.6,238.0 205.8,221.0 209.0,218.0 210.0,213.0 212.4,210.0 215.0,204.0 217.0,200.0 220.0,199.4 225.0,200.0 228.0,199.0 229.6,194.0 230.6,191.0 232.5,182.0 235.0,178.7 237.6,177.8 240.2,177.5 241.5,185.8 244.0,187.0 246.0,188.4 247.5,187.0 248.8,180.7 250.5,174.3 252.1,169.4 253.7,172.3 255.6,175.5 257.3,176.2 259.4,173.0 261.4,170.4 263.3,172.3 265.2,174.3 267.2,171.7 269.1,168.5 271.6,167.2 273.6,169.1 275.5,171.0 277.4,169.4 280.0,168.9 281.9,167.2 283.5,166.6 285.1,167.8 287.0,171.7 288.3,178.7 289.4,187.1 290.9,189.7 292.2,187.1 294.1,183.9 296.0,181.3 298.0,180.7 299.6,173.0 300.9,168.0 302.8,166.0 304.8,162.2 306.0,155.8 308.0,149.4 309.5,144.3 310.8,136.6 312.1,130.4 313.4,134.6 315.0,129.5 316.1,136.6 317.0,147.5 318.0,151.3 319.5,152.0 321.5,150.7 323.6,152.6 325.3,154.5 327.2,153.9 328.5,155.8 329.8,159.7 330.8,163.5 331.7,155.8 333.0,147.5 334.3,142.3 336.2,140.4 338.8,140.1 340.3,143.0 342.0,145.5 343.9,146.8 345.8,147.5 347.8,144.9 349.7,144.3 351.4,145.5 353.5,144.3 355.6,144.4 358.1,143.5 360.1,148.0 362.6,152.8 364.6,150.5 366.5,149.9 367.8,155.0 369.7,155.7 371.6,155.0 373.5,157.0 375.1,151.2 376.7,146.7 378.7,146.0 380.2,148.0 381.9,154.4 383.8,157.0 385.7,156.3 387.0,155.7 388.9,157.6 390.9,159.5 392.8,160.8 394.3,162.1 395.4,166.6 396.9,169.0 399.5,168.3 401.2,172.8 403.0,178.6 404.6,183.1 406.3,180.5 407.8,178.6 409.8,179.3 411.7,180.3 413.6,181.2 414.9,186.3 416.8,188.9 418.4,191.4 420.0,195.3 422.0,194.0 423.9,188.2 425.6,184.4 426.7,189.7 428.0,195.8 429.3,201.3 431.4,203.9 434.0,204.4 436.6,206.7 438.5,209.3 440.1,213.7 441.9,215.0 444.3,213.1 446.2,216.3 448.1,218.9 449.6,222.1 451.3,225.3 453.2,224.4 455.8,222.7 457.1,223.4 458.4,225.3 459.9,220.2 461.6,218.9 463.5,218.2 465.4,215.0 467.4,212.1 469.3,209.3 471.0,205.1 472.5,203.9 474.4,205.1 476.3,207.3 478.9,209.0 480.8,210.6 482.6,213.2 484.3,214.2 486.3,220.0 488.1,220.2 489.6,226.5 490.5,227.9 492.3,225.1 494.9,223.2 497.3,223.0 499.0,226.2 500.5,230.0 502.9,233.2 505.6,235.3 508.2,236.7 510.5,235.1 512.7,232.1 514.8,231.5 517.1,232.7 519.0,236.0 520.4,240.4 522.5,243.6 524.3,248.0 526.5,252.1 529.2,253.8 532.5,254.5 535.3,252.7 538.1,252.1 539.7,253.8 541.4,256.5 542.8,258.5 542.8,241.9 541.4,239.9 539.7,237.2 538.1,235.5 535.3,236.1 532.5,237.9 529.2,237.2 526.5,235.5 524.3,231.4 522.5,227.0 520.4,223.8 519.0,219.4 517.1,216.1 514.8,214.9 512.7,215.5 510.5,218.5 508.2,220.1 505.6,218.7 502.9,216.6 500.5,213.4 499.0,209.6 497.3,206.4 494.9,206.6 492.3,208.5 490.5,211.3 489.6,209.9 488.1,203.6 486.3,203.4 484.3,197.6 482.6,196.6 480.8,194.0 478.9,192.4 476.3,190.7 474.4,188.5 472.5,187.3 471.0,188.5 469.3,192.7 467.4,195.5 465.4,198.4 463.5,201.6 461.6,202.3 459.9,203.6 458.4,208.7 457.1,206.8 455.8,206.1 453.2,207.8 451.3,208.7 449.6,205.5 448.1,202.3 446.2,199.7 444.3,196.5 441.9,198.4 440.1,197.1 438.5,192.7 436.6,190.1 434.0,187.8 431.4,187.3 429.3,184.7 428.0,179.2 426.7,173.1 425.6,167.8 423.9,171.6 422.0,177.4 420.0,178.7 418.4,174.8 416.8,172.3 414.9,169.7 413.6,164.6 411.7,163.7 409.8,162.7 407.8,162.0 406.3,163.9 404.6,166.5 403.0,162.0 401.2,156.2 399.5,151.7 396.9,152.4 395.4,150.0 394.3,145.5 392.8,144.2 390.9,142.9 388.9,141.0 387.0,139.1 385.7,139.7 383.8,140.4 381.9,137.8 380.2,131.4 378.7,129.4 376.7,130.1 375.1,134.6 373.5,140.4 371.6,138.4 369.7,139.1 367.8,138.4 366.5,133.3 364.6,133.9 362.6,136.2 360.1,131.4 358.1,126.9 355.6,127.8 353.5,127.7 351.4,128.9 349.7,127.7 347.8,128.3 345.8,130.9 343.9,130.2 342.0,128.9 340.3,126.4 338.8,123.5 336.2,123.8 334.3,125.7 333.0,130.9 331.7,139.2 330.8,146.9 329.8,143.1 328.5,139.2 327.2,137.3 325.3,137.9 323.6,136.0 321.5,134.1 319.5,135.4 318.0,134.7 317.0,130.9 316.1,120.0 315.0,112.9 313.4,118.0 312.1,113.8 310.8,120.0 309.5,127.7 308.0,132.8 306.0,139.2 304.8,145.6 302.8,149.4 300.9,151.4 299.6,156.4 298.0,164.1 296.0,164.7 294.1,167.3 292.2,170.5 290.9,173.1 289.4,170.5 288.3,162.1 287.0,155.1 285.1,151.2 283.5,150.0 281.9,150.6 280.0,152.3 277.4,152.8 275.5,154.4 273.6,152.5 271.6,150.6 269.1,151.9 267.2,155.1 265.2,157.7 263.3,155.7 261.4,153.8 259.4,156.4 257.3,159.6 255.6,158.9 253.7,155.7 252.1,152.8 250.5,157.7 248.8,164.1 247.5,170.4 246.0,171.8 244.0,170.4 241.5,169.2 240.2,160.9 237.6,161.2 235.0,162.1 232.5,165.4 230.6,174.4 229.6,177.4 228.0,182.4 225.0,183.4 220.0,182.8 217.0,183.4 215.0,187.4 212.4,193.4 210.0,196.4 209.0,201.4 205.8,204.4 204.6,221.4 203.2,225.4 201.0,229.4 199.0,228.4 194.0,228.9 190.5,228.4 189.0,225.4 187.0,222.0 185.0,222.4 183.0,224.9 181.0,229.4 179.0,227.4 177.4,229.4 176.0,234.4 174.6,228.4 173.6,225.4 172.0,233.4 170.6,234.4 169.0,230.8 167.0,229.4 165.0,230.4 163.6,235.4 162.0,238.4 160.0,230.4 158.6,222.4 156.6,235.4 155.0,231.4 153.6,224.4 152.0,237.4 149.0,241.4 146.0,242.4 143.0,244.4 138.0,246.4 135.0,249.4 132.0,248.8 130.0,250.8 127.0,250.8 125.0,248.8 123.0,250.4 119.0,250.8 115.0,249.4 110.0,250.4 106.0,247.4 103.0,242.4 100.0,241.4 98.2,238.4 96.2,236.5 94.3,233.9 93.0,230.7 91.7,227.5 90.1,223.6 88.8,220.4 87.5,223.0 86.0,221.7 84.0,219.1 81.9,218.5 80.6,214.0 79.3,210.8 77.6,209.5 76.3,211.4 75.1,208.2 73.8,210.2 72.5,205.0 71.2,199.9 69.9,195.4 68.0,192.1 64.8,187.6 62.3,183.1 59.7,179.2 57.8,174.1 55.6,171.3"/>
<polygon fill="#0b6ae4" points="55.6,187.9 57.8,190.7 59.7,195.8 62.3,199.7 64.8,204.2 68.0,208.7 69.9,212.0 71.2,216.5 72.5,221.6 73.8,226.8 75.1,224.8 76.3,228.0 77.6,226.1 79.3,227.4 80.6,230.6 81.9,235.1 84.0,235.7 86.0,238.3 87.5,239.6 88.8,237.0 90.1,240.2 91.7,244.1 93.0,247.3 94.3,250.5 96.2,253.1 98.2,255.0 100.0,258.0 103.0,259.0 106.0,264.0 110.0,267.0 115.0,266.0 119.0,267.4 123.0,267.0 125.0,265.4 127.0,267.4 130.0,267.4 132.0,265.4 135.0,266.0 138.0,263.0 143.0,261.0 146.0,259.0 149.0,258.0 152.0,254.0 153.6,241.0 155.0,248.0 156.6,252.0 158.6,239.0 160.0,247.0 162.0,255.0 163.6,252.0 165.0,247.0 167.0,246.0 169.0,247.4 170.6,251.0 172.0,250.0 173.6,242.0 174.6,245.0 176.0,251.0 177.4,246.0 179.0,244.0 181.0,246.0 183.0,241.5 185.0,239.0 187.0,238.6 189.0,242.0 190.5,245.0 194.0,245.5 199.0,245.0 201.0,246.0 203.2,242.0 204.6,238.0 205.8,221.0 209.0,218.0 210.0,213.0 212.4,210.0 215.0,204.0 217.0,200.0 220.0,199.4 225.0,200.0 228.0,199.0 229.6,194.0 230.6,191.0 232.5,182.0 235.0,178.7 237.6,177.8 240.2,177.5 241.5,185.8 244.0,187.0 246.0,188.4 247.5,187.0 248.8,180.7 250.5,174.3 252.1,169.4 253.7,172.3 255.6,175.5 257.3,176.2 259.4,173.0 261.4,170.4 263.3,172.3 265.2,174.3 267.2,171.7 269.1,168.5 271.6,167.2 273.6,169.1 275.5,171.0 277.4,169.4 280.0,168.9 281.9,167.2 283.5,166.6 285.1,167.8 287.0,171.7 288.3,178.7 289.4,187.1 290.9,189.7 292.2,187.1 294.1,183.9 296.0,181.3 298.0,180.7 299.6,173.0 300.9,168.0 302.8,166.0 304.8,162.2 306.0,155.8 308.0,149.4 309.5,144.3 310.8,136.6 312.1,130.4 313.4,134.6 315.0,129.5 316.1,136.6 317.0,147.5 318.0,151.3 319.5,152.0 321.5,150.7 323.6,152.6 325.3,154.5 327.2,153.9 328.5,155.8 329.8,159.7 330.8,163.5 331.7,155.8 333.0,147.5 334.3,142.3 336.2,140.4 338.8,140.1 340.3,143.0 342.0,145.5 343.9,146.8 345.8,147.5 347.8,144.9 349.7,144.3 351.4,145.5 353.5,144.3 355.6,144.4 358.1,143.5 360.1,148.0 362.6,152.8 364.6,150.5 366.5,149.9 367.8,155.0 369.7,155.7 371.6,155.0 373.5,157.0 375.1,151.2 376.7,146.7 378.7,146.0 380.2,148.0 381.9,154.4 383.8,157.0 385.7,156.3 387.0,155.7 388.9,157.6 390.9,159.5 392.8,160.8 394.3,162.1 395.4,166.6 396.9,169.0 399.5,168.3 401.2,172.8 403.0,178.6 404.6,183.1 406.3,180.5 407.8,178.6 409.8,179.3 411.7,180.3 413.6,181.2 414.9,186.3 416.8,188.9 418.4,191.4 420.0,195.3 422.0,194.0 423.9,188.2 425.6,184.4 426.7,189.7 428.0,195.8 429.3,201.3 431.4,203.9 434.0,204.4 436.6,206.7 438.5,209.3 440.1,213.7 441.9,215.0 444.3,213.1 446.2,216.3 448.1,218.9 449.6,222.1 451.3,225.3 453.2,224.4 455.8,222.7 457.1,223.4 458.4,225.3 459.9,220.2 461.6,218.9 463.5,218.2 465.4,215.0 467.4,212.1 469.3,209.3 471.0,205.1 472.5,203.9 474.4,205.1 476.3,207.3 478.9,209.0 480.8,210.6 482.6,213.2 484.3,214.2 486.3,220.0 488.1,220.2 489.6,226.5 490.5,227.9 492.3,225.1 494.9,223.2 497.3,223.0 499.0,226.2 500.5,230.0 502.9,233.2 505.6,235.3 508.2,236.7 510.5,235.1 512.7,232.1 514.8,231.5 517.1,232.7 519.0,236.0 520.4,240.4 522.5,243.6 524.3,248.0 526.5,252.1 529.2,253.8 532.5,254.5 535.3,252.7 538.1,252.1 539.7,253.8 541.4,256.5 542.8,258.5 542.8,244.4 541.4,242.4 539.7,239.7 538.1,238.0 535.3,238.6 532.5,240.4 529.2,239.7 526.5,238.0 524.3,233.9 522.5,229.5 520.4,226.3 519.0,221.9 517.1,218.6 514.8,217.4 512.7,218.0 510.5,221.0 508.2,222.6 505.6,221.2 502.9,219.1 500.5,215.9 499.0,212.1 497.3,208.9 494.9,209.1 492.3,211.0 490.5,213.8 489.6,212.4 488.1,206.1 486.3,205.9 484.3,200.1 482.6,199.1 480.8,196.5 478.9,194.9 476.3,193.2 474.4,191.0 472.5,189.8 471.0,191.0 469.3,195.2 467.4,198.0 465.4,200.9 463.5,204.1 461.6,204.8 459.9,206.1 458.4,211.2 457.1,209.3 455.8,208.6 453.2,210.3 451.3,211.2 449.6,208.0 448.1,204.8 446.2,202.2 444.3,199.0 441.9,200.9 440.1,199.6 438.5,195.2 436.6,192.6 434.0,190.3 431.4,189.8 429.3,187.2 428.0,181.7 426.7,175.6 425.6,170.3 423.9,174.1 422.0,179.9 420.0,181.2 418.4,177.3 416.8,174.8 414.9,172.2 413.6,167.1 411.7,166.2 409.8,165.2 407.8,164.5 406.3,166.4 404.6,169.0 403.0,164.5 401.2,158.7 399.5,154.2 396.9,154.9 395.4,152.5 394.3,148.0 392.8,146.7 390.9,145.4 388.9,143.5 387.0,141.6 385.7,142.2 383.8,142.9 381.9,140.3 380.2,133.9 378.7,131.9 376.7,132.6 375.1,137.1 373.5,142.9 371.6,140.9 369.7,141.6 367.8,140.9 366.5,135.8 364.6,136.4 362.6,138.7 360.1,133.9 358.1,129.4 355.6,130.3 353.5,130.2 351.4,131.4 349.7,130.2 347.8,130.8 345.8,133.4 343.9,132.7 342.0,131.4 340.3,128.9 338.8,126.0 336.2,126.3 334.3,128.2 333.0,133.4 331.7,141.7 330.8,149.4 329.8,145.6 328.5,141.7 327.2,139.8 325.3,140.4 323.6,138.5 321.5,136.6 319.5,137.9 318.0,137.2 317.0,133.4 316.1,122.5 315.0,115.4 313.4,120.5 312.1,116.3 310.8,122.5 309.5,130.2 308.0,135.3 306.0,141.7 304.8,148.1 302.8,151.9 300.9,153.9 299.6,158.9 298.0,166.6 296.0,167.2 294.1,169.8 292.2,173.0 290.9,175.6 289.4,173.0 288.3,164.6 287.0,157.6 285.1,153.7 283.5,152.5 281.9,153.1 280.0,154.8 277.4,155.3 275.5,156.9 273.6,155.0 271.6,153.1 269.1,154.4 267.2,157.6 265.2,160.2 263.3,158.2 261.4,156.3 259.4,158.9 257.3,162.1 255.6,161.4 253.7,158.2 252.1,155.3 250.5,160.2 248.8,166.6 247.5,172.9 246.0,174.3 244.0,172.9 241.5,171.7 240.2,163.4 237.6,163.7 235.0,164.6 232.5,167.9 230.6,176.9 229.6,179.9 228.0,184.9 225.0,185.9 220.0,185.3 217.0,185.9 215.0,189.9 212.4,195.9 210.0,198.9 209.0,203.9 205.8,206.9 204.6,223.9 203.2,227.9 201.0,231.9 199.0,230.9 194.0,231.4 190.5,230.9 189.0,227.9 187.0,224.5 185.0,224.9 183.0,227.4 181.0,231.9 179.0,229.9 177.4,231.9 176.0,236.9 174.6,230.9 173.6,227.9 172.0,235.9 170.6,236.9 169.0,233.3 167.0,231.9 165.0,232.9 163.6,237.9 162.0,240.9 160.0,232.9 158.6,224.9 156.6,237.9 155.0,233.9 153.6,226.9 152.0,239.9 149.0,243.9 146.0,244.9 143.0,246.9 138.0,248.9 135.0,251.9 132.0,251.3 130.0,253.3 127.0,253.3 125.0,251.3 123.0,252.9 119.0,253.3 115.0,251.9 110.0,252.9 106.0,249.9 103.0,244.9 100.0,243.9 98.2,240.9 96.2,239.0 94.3,236.4 93.0,233.2 91.7,230.0 90.1,226.1 88.8,222.9 87.5,225.5 86.0,224.2 84.0,221.6 81.9,221.0 80.6,216.5 79.3,213.3 77.6,212.0 76.3,213.9 75.1,210.7 73.8,212.7 72.5,207.5 71.2,202.4 69.9,197.9 68.0,194.6 64.8,190.1 62.3,185.6 59.7,181.7 57.8,176.6 55.6,173.8"/>
<polygon fill="#a4cdf3" points="55.6,187.9 57.8,190.7 59.7,195.8 62.3,199.7 64.8,204.2 68.0,208.7 69.9,212.0 71.2,216.5 72.5,221.6 73.8,226.8 75.1,224.8 76.3,228.0 77.6,226.1 79.3,227.4 80.6,230.6 81.9,235.1 84.0,235.7 86.0,238.3 87.5,239.6 88.8,237.0 90.1,240.2 91.7,244.1 93.0,247.3 94.3,250.5 96.2,253.1 98.2,255.0 100.0,258.0 103.0,259.0 106.0,264.0 110.0,267.0 115.0,266.0 119.0,267.4 123.0,267.0 125.0,265.4 127.0,267.4 130.0,267.4 132.0,265.4 135.0,266.0 138.0,263.0 143.0,261.0 146.0,259.0 149.0,258.0 152.0,254.0 153.6,241.0 155.0,248.0 156.6,252.0 158.6,239.0 160.0,247.0 162.0,255.0 163.6,252.0 165.0,247.0 167.0,246.0 169.0,247.4 170.6,251.0 172.0,250.0 173.6,242.0 174.6,245.0 176.0,251.0 177.4,246.0 179.0,244.0 181.0,246.0 183.0,241.5 185.0,239.0 187.0,238.6 189.0,242.0 190.5,245.0 194.0,245.5 199.0,245.0 201.0,246.0 203.2,242.0 204.6,238.0 205.8,221.0 209.0,218.0 210.0,213.0 212.4,210.0 215.0,204.0 217.0,200.0 220.0,199.4 225.0,200.0 228.0,199.0 229.6,194.0 230.6,191.0 232.5,182.0 235.0,178.7 237.6,177.8 240.2,177.5 241.5,185.8 244.0,187.0 246.0,188.4 247.5,187.0 248.8,180.7 250.5,174.3 252.1,169.4 253.7,172.3 255.6,175.5 257.3,176.2 259.4,173.0 261.4,170.4 263.3,172.3 265.2,174.3 267.2,171.7 269.1,168.5 271.6,167.2 273.6,169.1 275.5,171.0 277.4,169.4 280.0,168.9 281.9,167.2 283.5,166.6 285.1,167.8 287.0,171.7 288.3,178.7 289.4,187.1 290.9,189.7 292.2,187.1 294.1,183.9 296.0,181.3 298.0,180.7 299.6,173.0 300.9,168.0 302.8,166.0 304.8,162.2 306.0,155.8 308.0,149.4 309.5,144.3 310.8,136.6 312.1,130.4 313.4,134.6 315.0,129.5 316.1,136.6 317.0,147.5 318.0,151.3 319.5,152.0 321.5,150.7 323.6,152.6 325.3,154.5 327.2,153.9 328.5,155.8 329.8,159.7 330.8,163.5 331.7,155.8 333.0,147.5 334.3,142.3 336.2,140.4 338.8,140.1 340.3,143.0 342.0,145.5 343.9,146.8 345.8,147.5 347.8,144.9 349.7,144.3 351.4,145.5 353.5,144.3 355.6,144.4 358.1,143.5 360.1,148.0 362.6,152.8 364.6,150.5 366.5,149.9 367.8,155.0 369.7,155.7 371.6,155.0 373.5,157.0 375.1,151.2 376.7,146.7 378.7,146.0 380.2,148.0 381.9,154.4 383.8,157.0 385.7,156.3 387.0,155.7 388.9,157.6 390.9,159.5 392.8,160.8 394.3,162.1 395.4,166.6 396.9,169.0 399.5,168.3 401.2,172.8 403.0,178.6 404.6,183.1 406.3,180.5 407.8,178.6 409.8,179.3 411.7,180.3 413.6,181.2 414.9,186.3 416.8,188.9 418.4,191.4 420.0,195.3 422.0,194.0 423.9,188.2 425.6,184.4 426.7,189.7 428.0,195.8 429.3,201.3 431.4,203.9 434.0,204.4 436.6,206.7 438.5,209.3 440.1,213.7 441.9,215.0 444.3,213.1 446.2,216.3 448.1,218.9 449.6,222.1 451.3,225.3 453.2,224.4 455.8,222.7 457.1,223.4 458.4,225.3 459.9,220.2 461.6,218.9 463.5,218.2 465.4,215.0 467.4,212.1 469.3,209.3 471.0,205.1 472.5,203.9 474.4,205.1 476.3,207.3 478.9,209.0 480.8,210.6 482.6,213.2 484.3,214.2 486.3,220.0 488.1,220.2 489.6,226.5 490.5,227.9 492.3,225.1 494.9,223.2 497.3,223.0 499.0,226.2 500.5,230.0 502.9,233.2 505.6,235.3 508.2,236.7 510.5,235.1 512.7,232.1 514.8,231.5 517.1,232.7 519.0,236.0 520.4,240.4 522.5,243.6 524.3,248.0 526.5,252.1 529.2,253.8 532.5,254.5 535.3,252.7 538.1,252.1 539.7,253.8 541.4,256.5 542.8,258.5 542.8,314.9 541.4,312.9 539.7,310.2 538.1,308.5 535.3,309.1 532.5,310.9 529.2,310.2 526.5,308.5 524.3,304.4 522.5,300.0 520.4,296.8 519.0,292.4 517.1,289.1 514.8,287.9 512.7,288.5 510.5,291.5 508.2,293.1 505.6,291.7 502.9,289.6 500.5,286.4 499.0,282.6 497.3,279.4 494.9,279.6 492.3,281.5 490.5,284.3 489.6,282.9 488.1,276.6 486.3,276.4 484.3,270.6 482.6,269.6 480.8,267.0 478.9,265.4 476.3,263.7 474.4,261.5 472.5,260.3 471.0,261.5 469.3,265.7 467.4,268.5 465.4,271.4 463.5,274.6 461.6,275.3 459.9,276.6 458.4,281.7 457.1,279.8 455.8,279.1 453.2,280.8 451.3,281.7 449.6,278.5 448.1,275.3 446.2,272.7 444.3,269.5 441.9,271.4 440.1,270.1 438.5,265.7 436.6,263.1 434.0,260.8 431.4,260.3 429.3,257.7 428.0,252.2 426.7,246.1 425.6,240.8 423.9,244.6 422.0,250.4 420.0,251.7 418.4,247.8 416.8,245.3 414.9,242.7 413.6,237.6 411.7,236.7 409.8,235.7 407.8,235.0 406.3,236.9 404.6,239.5 403.0,235.0 401.2,229.2 399.5,224.7 396.9,225.4 395.4,223.0 394.3,218.5 392.8,217.2 390.9,215.9 388.9,214.0 387.0,212.1 385.7,212.7 383.8,213.4 381.9,210.8 380.2,204.4 378.7,202.4 376.7,203.1 375.1,207.6 373.5,213.4 371.6,211.4 369.7,212.1 367.8,211.4 366.5,206.3 364.6,206.9 362.6,209.2 360.1,204.4 358.1,199.9 355.6,200.8 353.5,200.7 351.4,201.9 349.7,200.7 347.8,201.3 345.8,203.9 343.9,203.2 342.0,201.9 340.3,199.4 338.8,196.5 336.2,196.8 334.3,198.7 333.0,203.9 331.7,212.2 330.8,219.9 329.8,216.1 328.5,212.2 327.2,210.3 325.3,210.9 323.6,209.0 321.5,207.1 319.5,208.4 318.0,207.7 317.0,203.9 316.1,193.0 315.0,185.9 313.4,191.0 312.1,186.8 310.8,193.0 309.5,200.7 308.0,205.8 306.0,212.2 304.8,218.6 302.8,222.4 300.9,224.4 299.6,229.4 298.0,237.1 296.0,237.7 294.1,240.3 292.2,243.5 290.9,246.1 289.4,243.5 288.3,235.1 287.0,228.1 285.1,224.2 283.5,223.0 281.9,223.6 280.0,225.3 277.4,225.8 275.5,227.4 273.6,225.5 271.6,223.6 269.1,224.9 267.2,228.1 265.2,230.7 263.3,228.7 261.4,226.8 259.4,229.4 257.3,232.6 255.6,231.9 253.7,228.7 252.1,225.8 250.5,230.7 248.8,237.1 247.5,243.4 246.0,244.8 244.0,243.4 241.5,242.2 240.2,233.9 237.6,234.2 235.0,235.1 232.5,238.4 230.6,247.4 229.6,250.4 228.0,255.4 225.0,256.4 220.0,255.8 217.0,256.4 215.0,260.4 212.4,266.4 210.0,269.4 209.0,274.4 205.8,277.4 204.6,294.4 203.2,298.4 201.0,302.4 199.0,301.4 194.0,301.9 190.5,301.4 189.0,298.4 187.0,295.0 185.0,295.4 183.0,297.9 181.0,302.4 179.0,300.4 177.4,302.4 176.0,307.4 174.6,301.4 173.6,298.4 172.0,306.4 170.6,307.4 169.0,303.8 167.0,302.4 165.0,303.4 163.6,308.4 162.0,311.4 160.0,303.4 158.6,295.4 156.6,308.4 155.0,304.4 153.6,297.4 152.0,310.4 149.0,314.4 146.0,315.4 143.0,317.4 138.0,319.4 135.0,322.4 132.0,321.8 130.0,323.8 127.0,323.8 125.0,321.8 123.0,323.4 119.0,323.8 115.0,322.4 110.0,323.4 106.0,320.4 103.0,315.4 100.0,314.4 98.2,311.4 96.2,309.5 94.3,306.9 93.0,303.7 91.7,300.5 90.1,296.6 88.8,293.4 87.5,296.0 86.0,294.7 84.0,292.1 81.9,291.5 80.6,287.0 79.3,283.8 77.6,282.5 76.3,284.4 75.1,281.2 73.8,283.2 72.5,278.0 71.2,272.9 69.9,268.4 68.0,265.1 64.8,260.6 62.3,256.1 59.7,252.2 57.8,247.1 55.6,244.3"/>
<polygon fill="#7cbcf6" points="55.6,187.9 57.8,190.7 59.7,195.8 62.3,199.7 64.8,204.2 68.0,208.7 69.9,212.0 71.2,216.5 72.5,221.6 73.8,226.8 75.1,224.8 76.3,228.0 77.6,226.1 79.3,227.4 80.6,230.6 81.9,235.1 84.0,235.7 86.0,238.3 87.5,239.6 88.8,237.0 90.1,240.2 91.7,244.1 93.0,247.3 94.3,250.5 96.2,253.1 98.2,255.0 100.0,258.0 103.0,259.0 106.0,264.0 110.0,267.0 115.0,266.0 119.0,267.4 123.0,267.0 125.0,265.4 127.0,267.4 130.0,267.4 132.0,265.4 135.0,266.0 138.0,263.0 143.0,261.0 146.0,259.0 149.0,258.0 152.0,254.0 153.6,241.0 155.0,248.0 156.6,252.0 158.6,239.0 160.0,247.0 162.0,255.0 163.6,252.0 165.0,247.0 167.0,246.0 169.0,247.4 170.6,251.0 172.0,250.0 173.6,242.0 174.6,245.0 176.0,251.0 177.4,246.0 179.0,244.0 181.0,246.0 183.0,241.5 185.0,239.0 187.0,238.6 189.0,242.0 190.5,245.0 194.0,245.5 199.0,245.0 201.0,246.0 203.2,242.0 204.6,238.0 205.8,221.0 209.0,218.0 210.0,213.0 212.4,210.0 215.0,204.0 217.0,200.0 220.0,199.4 225.0,200.0 228.0,199.0 229.6,194.0 230.6,191.0 232.5,182.0 235.0,178.7 237.6,177.8 240.2,177.5 241.5,185.8 244.0,187.0 246.0,188.4 247.5,187.0 248.8,180.7 250.5,174.3 252.1,169.4 253.7,172.3 255.6,175.5 257.3,176.2 259.4,173.0 261.4,170.4 263.3,172.3 265.2,174.3 267.2,171.7 269.1,168.5 271.6,167.2 273.6,169.1 275.5,171.0 277.4,169.4 280.0,168.9 281.9,167.2 283.5,166.6 285.1,167.8 287.0,171.7 288.3,178.7 289.4,187.1 290.9,189.7 292.2,187.1 294.1,183.9 296.0,181.3 298.0,180.7 299.6,173.0 300.9,168.0 302.8,166.0 304.8,162.2 306.0,155.8 308.0,149.4 309.5,144.3 310.8,136.6 312.1,130.4 313.4,134.6 315.0,129.5 316.1,136.6 317.0,147.5 318.0,151.3 319.5,152.0 321.5,150.7 323.6,152.6 325.3,154.5 327.2,153.9 328.5,155.8 329.8,159.7 330.8,163.5 331.7,155.8 333.0,147.5 334.3,142.3 336.2,140.4 338.8,140.1 340.3,143.0 342.0,145.5 343.9,146.8 345.8,147.5 347.8,144.9 349.7,144.3 351.4,145.5 353.5,144.3 355.6,144.4 358.1,143.5 360.1,148.0 362.6,152.8 364.6,150.5 366.5,149.9 367.8,155.0 369.7,155.7 371.6,155.0 373.5,157.0 375.1,151.2 376.7,146.7 378.7,146.0 380.2,148.0 381.9,154.4 383.8,157.0 385.7,156.3 387.0,155.7 388.9,157.6 390.9,159.5 392.8,160.8 394.3,162.1 395.4,166.6 396.9,169.0 399.5,168.3 401.2,172.8 403.0,178.6 404.6,183.1 406.3,180.5 407.8,178.6 409.8,179.3 411.7,180.3 413.6,181.2 414.9,186.3 416.8,188.9 418.4,191.4 420.0,195.3 422.0,194.0 423.9,188.2 425.6,184.4 426.7,189.7 428.0,195.8 429.3,201.3 431.4,203.9 434.0,204.4 436.6,206.7 438.5,209.3 440.1,213.7 441.9,215.0 444.3,213.1 446.2,216.3 448.1,218.9 449.6,222.1 451.3,225.3 453.2,224.4 455.8,222.7 457.1,223.4 458.4,225.3 459.9,220.2 461.6,218.9 463.5,218.2 465.4,215.0 467.4,212.1 469.3,209.3 471.0,205.1 472.5,203.9 474.4,205.1 476.3,207.3 478.9,209.0 480.8,210.6 482.6,213.2 484.3,214.2 486.3,220.0 488.1,220.2 489.6,226.5 490.5,227.9 492.3,225.1 494.9,223.2 497.3,223.0 499.0,226.2 500.5,230.0 502.9,233.2 505.6,235.3 508.2,236.7 510.5,235.1 512.7,232.1 514.8,231.5 517.1,232.7 519.0,236.0 520.4,240.4 522.5,243.6 524.3,248.0 526.5,252.1 529.2,253.8 532.5,254.5 535.3,252.7 538.1,252.1 539.7,253.8 541.4,256.5 542.8,258.5 542.8,305.1 541.4,303.1 539.7,300.4 538.1,298.7 535.3,299.3 532.5,301.1 529.2,300.4 526.5,298.7 524.3,294.6 522.5,290.2 520.4,287.0 519.0,282.6 517.1,279.3 514.8,278.1 512.7,278.7 510.5,281.7 508.2,283.3 505.6,281.9 502.9,279.8 500.5,276.6 499.0,272.8 497.3,269.6 494.9,269.8 492.3,271.7 490.5,274.5 489.6,273.1 488.1,266.8 486.3,266.6 484.3,260.8 482.6,259.8 480.8,257.2 478.9,255.6 476.3,253.9 474.4,251.7 472.5,250.5 471.0,251.7 469.3,255.9 467.4,258.7 465.4,261.6 463.5,264.8 461.6,265.5 459.9,266.8 458.4,271.9 457.1,270.0 455.8,269.3 453.2,271.0 451.3,271.9 449.6,268.7 448.1,265.5 446.2,262.9 444.3,259.7 441.9,261.6 440.1,260.3 438.5,255.9 436.6,253.3 434.0,251.0 431.4,250.5 429.3,247.9 428.0,242.4 426.7,236.3 425.6,231.0 423.9,234.8 422.0,240.6 420.0,241.9 418.4,238.0 416.8,235.5 414.9,232.9 413.6,227.8 411.7,226.9 409.8,225.9 407.8,225.2 406.3,227.1 404.6,229.7 403.0,225.2 401.2,219.4 399.5,214.9 396.9,215.6 395.4,213.2 394.3,208.7 392.8,207.4 390.9,206.1 388.9,204.2 387.0,202.3 385.7,202.9 383.8,203.6 381.9,201.0 380.2,194.6 378.7,192.6 376.7,193.3 375.1,197.8 373.5,203.6 371.6,201.6 369.7,202.3 367.8,201.6 366.5,196.5 364.6,197.1 362.6,199.4 360.1,194.6 358.1,190.1 355.6,191.0 353.5,190.9 351.4,192.1 349.7,190.9 347.8,191.5 345.8,194.1 343.9,193.4 342.0,192.1 340.3,189.6 338.8,186.7 336.2,187.0 334.3,188.9 333.0,194.1 331.7,202.4 330.8,210.1 329.8,206.3 328.5,202.4 327.2,200.5 325.3,201.1 323.6,199.2 321.5,197.3 319.5,198.6 318.0,197.9 317.0,194.1 316.1,183.2 315.0,176.1 313.4,181.2 312.1,177.0 310.8,183.2 309.5,190.9 308.0,196.0 306.0,202.4 304.8,208.8 302.8,212.6 300.9,214.6 299.6,219.6 298.0,227.3 296.0,227.9 294.1,230.5 292.2,233.7 290.9,236.3 289.4,233.7 288.3,225.3 287.0,218.3 285.1,214.4 283.5,213.2 281.9,213.8 280.0,215.5 277.4,216.0 275.5,217.6 273.6,215.7 271.6,213.8 269.1,215.1 267.2,218.3 265.2,220.9 263.3,218.9 261.4,217.0 259.4,219.6 257.3,222.8 255.6,222.1 253.7,218.9 252.1,216.0 250.5,220.9 248.8,227.3 247.5,233.6 246.0,235.0 244.0,233.6 241.5,232.4 240.2,224.1 237.6,224.4 235.0,225.3 232.5,228.6 230.6,237.6 229.6,240.6 228.0,245.6 225.0,246.6 220.0,246.0 217.0,246.6 215.0,250.6 212.4,256.6 210.0,259.6 209.0,264.6 205.8,267.6 204.6,284.6 203.2,288.6 201.0,292.6 199.0,291.6 194.0,292.1 190.5,291.6 189.0,288.6 187.0,285.2 185.0,285.6 183.0,288.1 181.0,292.6 179.0,290.6 177.4,292.6 176.0,297.6 174.6,291.6 173.6,288.6 172.0,296.6 170.6,297.6 169.0,294.0 167.0,292.6 165.0,293.6 163.6,298.6 162.0,301.6 160.0,293.6 158.6,285.6 156.6,298.6 155.0,294.6 153.6,287.6 152.0,300.6 149.0,304.6 146.0,305.6 143.0,307.6 138.0,309.6 135.0,312.6 132.0,312.0 130.0,314.0 127.0,314.0 125.0,312.0 123.0,313.6 119.0,314.0 115.0,312.6 110.0,313.6 106.0,310.6 103.0,305.6 100.0,304.6 98.2,301.6 96.2,299.7 94.3,297.1 93.0,293.9 91.7,290.7 90.1,286.8 88.8,283.6 87.5,286.2 86.0,284.9 84.0,282.3 81.9,281.7 80.6,277.2 79.3,274.0 77.6,272.7 76.3,274.6 75.1,271.4 73.8,273.4 72.5,268.2 71.2,263.1 69.9,258.6 68.0,255.3 64.8,250.8 62.3,246.3 59.7,242.4 57.8,237.3 55.6,234.5"/>
<polygon fill="#58adf8" points="55.6,187.9 57.8,190.7 59.7,195.8 62.3,199.7 64.8,204.2 68.0,208.7 69.9,212.0 71.2,216.5 72.5,221.6 73.8,226.8 75.1,224.8 76.3,228.0 77.6,226.1 79.3,227.4 80.6,230.6 81.9,235.1 84.0,235.7 86.0,238.3 87.5,239.6 88.8,237.0 90.1,240.2 91.7,244.1 93.0,247.3 94.3,250.5 96.2,253.1 98.2,255.0 100.0,258.0 103.0,259.0 106.0,264.0 110.0,267.0 115.0,266.0 119.0,267.4 123.0,267.0 125.0,265.4 127.0,267.4 130.0,267.4 132.0,265.4 135.0,266.0 138.0,263.0 143.0,261.0 146.0,259.0 149.0,258.0 152.0,254.0 153.6,241.0 155.0,248.0 156.6,252.0 158.6,239.0 160.0,247.0 162.0,255.0 163.6,252.0 165.0,247.0 167.0,246.0 169.0,247.4 170.6,251.0 172.0,250.0 173.6,242.0 174.6,245.0 176.0,251.0 177.4,246.0 179.0,244.0 181.0,246.0 183.0,241.5 185.0,239.0 187.0,238.6 189.0,242.0 190.5,245.0 194.0,245.5 199.0,245.0 201.0,246.0 203.2,242.0 204.6,238.0 205.8,221.0 209.0,218.0 210.0,213.0 212.4,210.0 215.0,204.0 217.0,200.0 220.0,199.4 225.0,200.0 228.0,199.0 229.6,194.0 230.6,191.0 232.5,182.0 235.0,178.7 237.6,177.8 240.2,177.5 241.5,185.8 244.0,187.0 246.0,188.4 247.5,187.0 248.8,180.7 250.5,174.3 252.1,169.4 253.7,172.3 255.6,175.5 257.3,176.2 259.4,173.0 261.4,170.4 263.3,172.3 265.2,174.3 267.2,171.7 269.1,168.5 271.6,167.2 273.6,169.1 275.5,171.0 277.4,169.4 280.0,168.9 281.9,167.2 283.5,166.6 285.1,167.8 287.0,171.7 288.3,178.7 289.4,187.1 290.9,189.7 292.2,187.1 294.1,183.9 296.0,181.3 298.0,180.7 299.6,173.0 300.9,168.0 302.8,166.0 304.8,162.2 306.0,155.8 308.0,149.4 309.5,144.3 310.8,136.6 312.1,130.4 313.4,134.6 315.0,129.5 316.1,136.6 317.0,147.5 318.0,151.3 319.5,152.0 321.5,150.7 323.6,152.6 325.3,154.5 327.2,153.9 328.5,155.8 329.8,159.7 330.8,163.5 331.7,155.8 333.0,147.5 334.3,142.3 336.2,140.4 338.8,140.1 340.3,143.0 342.0,145.5 343.9,146.8 345.8,147.5 347.8,144.9 349.7,144.3 351.4,145.5 353.5,144.3 355.6,144.4 358.1,143.5 360.1,148.0 362.6,152.8 364.6,150.5 366.5,149.9 367.8,155.0 369.7,155.7 371.6,155.0 373.5,157.0 375.1,151.2 376.7,146.7 378.7,146.0 380.2,148.0 381.9,154.4 383.8,157.0 385.7,156.3 387.0,155.7 388.9,157.6 390.9,159.5 392.8,160.8 394.3,162.1 395.4,166.6 396.9,169.0 399.5,168.3 401.2,172.8 403.0,178.6 404.6,183.1 406.3,180.5 407.8,178.6 409.8,179.3 411.7,180.3 413.6,181.2 414.9,186.3 416.8,188.9 418.4,191.4 420.0,195.3 422.0,194.0 423.9,188.2 425.6,184.4 426.7,189.7 428.0,195.8 429.3,201.3 431.4,203.9 434.0,204.4 436.6,206.7 438.5,209.3 440.1,213.7 441.9,215.0 444.3,213.1 446.2,216.3 448.1,218.9 449.6,222.1 451.3,225.3 453.2,224.4 455.8,222.7 457.1,223.4 458.4,225.3 459.9,220.2 461.6,218.9 463.5,218.2 465.4,215.0 467.4,212.1 469.3,209.3 471.0,205.1 472.5,203.9 474.4,205.1 476.3,207.3 478.9,209.0 480.8,210.6 482.6,213.2 484.3,214.2 486.3,220.0 488.1,220.2 489.6,226.5 490.5,227.9 492.3,225.1 494.9,223.2 497.3,223.0 499.0,226.2 500.5,230.0 502.9,233.2 505.6,235.3 508.2,236.7 510.5,235.1 512.7,232.1 514.8,231.5 517.1,232.7 519.0,236.0 520.4,240.4 522.5,243.6 524.3,248.0 526.5,252.1 529.2,253.8 532.5,254.5 535.3,252.7 538.1,252.1 539.7,253.8 541.4,256.5 542.8,258.5 542.8,296.0 541.4,294.0 539.7,291.3 538.1,289.6 535.3,290.2 532.5,292.0 529.2,291.3 526.5,289.6 524.3,285.5 522.5,281.1 520.4,277.9 519.0,273.5 517.1,270.2 514.8,269.0 512.7,269.6 510.5,272.6 508.2,274.2 505.6,272.8 502.9,270.7 500.5,267.5 499.0,263.7 497.3,260.5 494.9,260.7 492.3,262.6 490.5,265.4 489.6,264.0 488.1,257.7 486.3,257.5 484.3,251.7 482.6,250.7 480.8,248.1 478.9,246.5 476.3,244.8 474.4,242.6 472.5,241.4 471.0,242.6 469.3,246.8 467.4,249.6 465.4,252.5 463.5,255.7 461.6,256.4 459.9,257.7 458.4,262.8 457.1,260.9 455.8,260.2 453.2,261.9 451.3,262.8 449.6,259.6 448.1,256.4 446.2,253.8 444.3,250.6 441.9,252.5 440.1,251.2 438.5,246.8 436.6,244.2 434.0,241.9 431.4,241.4 429.3,238.8 428.0,233.3 426.7,227.2 425.6,221.9 423.9,225.7 422.0,231.5 420.0,232.8 418.4,228.9 416.8,226.4 414.9,223.8 413.6,218.7 411.7,217.8 409.8,216.8 407.8,216.1 406.3,218.0 404.6,220.6 403.0,216.1 401.2,210.3 399.5,205.8 396.9,206.5 395.4,204.1 394.3,199.6 392.8,198.3 390.9,197.0 388.9,195.1 387.0,193.2 385.7,193.8 383.8,194.5 381.9,191.9 380.2,185.5 378.7,183.5 376.7,184.2 375.1,188.7 373.5,194.5 371.6,192.5 369.7,193.2 367.8,192.5 366.5,187.4 364.6,188.0 362.6,190.3 360.1,185.5 358.1,181.0 355.6,181.9 353.5,181.8 351.4,183.0 349.7,181.8 347.8,182.4 345.8,185.0 343.9,184.3 342.0,183.0 340.3,180.5 338.8,177.6 336.2,177.9 334.3,179.8 333.0,185.0 331.7,193.3 330.8,201.0 329.8,197.2 328.5,193.3 327.2,191.4 325.3,192.0 323.6,190.1 321.5,188.2 319.5,189.5 318.0,188.8 317.0,185.0 316.1,174.1 315.0,167.0 313.4,172.1 312.1,167.9 310.8,174.1 309.5,181.8 308.0,186.9 306.0,193.3 304.8,199.7 302.8,203.5 300.9,205.5 299.6,210.5 298.0,218.2 296.0,218.8 294.1,221.4 292.2,224.6 290.9,227.2 289.4,224.6 288.3,216.2 287.0,209.2 285.1,205.3 283.5,204.1 281.9,204.7 280.0,206.4 277.4,206.9 275.5,208.5 273.6,206.6 271.6,204.7 269.1,206.0 267.2,209.2 265.2,211.8 263.3,209.8 261.4,207.9 259.4,210.5 257.3,213.7 255.6,213.0 253.7,209.8 252.1,206.9 250.5,211.8 248.8,218.2 247.5,224.5 246.0,225.9 244.0,224.5 241.5,223.3 240.2,215.0 237.6,215.3 235.0,216.2 232.5,219.5 230.6,228.5 229.6,231.5 228.0,236.5 225.0,237.5 220.0,236.9 217.0,237.5 215.0,241.5 212.4,247.5 210.0,250.5 209.0,255.5 205.8,258.5 204.6,275.5 203.2,279.5 201.0,283.5 199.0,282.5 194.0,283.0 190.5,282.5 189.0,279.5 187.0,276.1 185.0,276.5 183.0,279.0 181.0,283.5 179.0,281.5 177.4,283.5 176.0,288.5 174.6,282.5 173.6,279.5 172.0,287.5 170.6,288.5 169.0,284.9 167.0,283.5 165.0,284.5 163.6,289.5 162.0,292.5 160.0,284.5 158.6,276.5 156.6,289.5 155.0,285.5 153.6,278.5 152.0,291.5 149.0,295.5 146.0,296.5 143.0,298.5 138.0,300.5 135.0,303.5 132.0,302.9 130.0,304.9 127.0,304.9 125.0,302.9 123.0,304.5 119.0,304.9 115.0,303.5 110.0,304.5 106.0,301.5 103.0,296.5 100.0,295.5 98.2,292.5 96.2,290.6 94.3,288.0 93.0,284.8 91.7,281.6 90.1,277.7 88.8,274.5 87.5,277.1 86.0,275.8 84.0,273.2 81.9,272.6 80.6,268.1 79.3,264.9 77.6,263.6 76.3,265.5 75.1,262.3 73.8,264.3 72.5,259.1 71.2,254.0 69.9,249.5 68.0,246.2 64.8,241.7 62.3,237.2 59.7,233.3 57.8,228.2 55.6,225.4"/>
<polygon fill="#3aa0f9" points="55.6,187.9 57.8,190.7 59.7,195.8 62.3,199.7 64.8,204.2 68.0,208.7 69.9,212.0 71.2,216.5 72.5,221.6 73.8,226.8 75.1,224.8 76.3,228.0 77.6,226.1 79.3,227.4 80.6,230.6 81.9,235.1 84.0,235.7 86.0,238.3 87.5,239.6 88.8,237.0 90.1,240.2 91.7,244.1 93.0,247.3 94.3,250.5 96.2,253.1 98.2,255.0 100.0,258.0 103.0,259.0 106.0,264.0 110.0,267.0 115.0,266.0 119.0,267.4 123.0,267.0 125.0,265.4 127.0,267.4 130.0,267.4 132.0,265.4 135.0,266.0 138.0,263.0 143.0,261.0 146.0,259.0 149.0,258.0 152.0,254.0 153.6,241.0 155.0,248.0 156.6,252.0 158.6,239.0 160.0,247.0 162.0,255.0 163.6,252.0 165.0,247.0 167.0,246.0 169.0,247.4 170.6,251.0 172.0,250.0 173.6,242.0 174.6,245.0 176.0,251.0 177.4,246.0 179.0,244.0 181.0,246.0 183.0,241.5 185.0,239.0 187.0,238.6 189.0,242.0 190.5,245.0 194.0,245.5 199.0,245.0 201.0,246.0 203.2,242.0 204.6,238.0 205.8,221.0 209.0,218.0 210.0,213.0 212.4,210.0 215.0,204.0 217.0,200.0 220.0,199.4 225.0,200.0 228.0,199.0 229.6,194.0 230.6,191.0 232.5,182.0 235.0,178.7 237.6,177.8 240.2,177.5 241.5,185.8 244.0,187.0 246.0,188.4 247.5,187.0 248.8,180.7 250.5,174.3 252.1,169.4 253.7,172.3 255.6,175.5 257.3,176.2 259.4,173.0 261.4,170.4 263.3,172.3 265.2,174.3 267.2,171.7 269.1,168.5 271.6,167.2 273.6,169.1 275.5,171.0 277.4,169.4 280.0,168.9 281.9,167.2 283.5,166.6 285.1,167.8 287.0,171.7 288.3,178.7 289.4,187.1 290.9,189.7 292.2,187.1 294.1,183.9 296.0,181.3 298.0,180.7 299.6,173.0 300.9,168.0 302.8,166.0 304.8,162.2 306.0,155.8 308.0,149.4 309.5,144.3 310.8,136.6 312.1,130.4 313.4,134.6 315.0,129.5 316.1,136.6 317.0,147.5 318.0,151.3 319.5,152.0 321.5,150.7 323.6,152.6 325.3,154.5 327.2,153.9 328.5,155.8 329.8,159.7 330.8,163.5 331.7,155.8 333.0,147.5 334.3,142.3 336.2,140.4 338.8,140.1 340.3,143.0 342.0,145.5 343.9,146.8 345.8,147.5 347.8,144.9 349.7,144.3 351.4,145.5 353.5,144.3 355.6,144.4 358.1,143.5 360.1,148.0 362.6,152.8 364.6,150.5 366.5,149.9 367.8,155.0 369.7,155.7 371.6,155.0 373.5,157.0 375.1,151.2 376.7,146.7 378.7,146.0 380.2,148.0 381.9,154.4 383.8,157.0 385.7,156.3 387.0,155.7 388.9,157.6 390.9,159.5 392.8,160.8 394.3,162.1 395.4,166.6 396.9,169.0 399.5,168.3 401.2,172.8 403.0,178.6 404.6,183.1 406.3,180.5 407.8,178.6 409.8,179.3 411.7,180.3 413.6,181.2 414.9,186.3 416.8,188.9 418.4,191.4 420.0,195.3 422.0,194.0 423.9,188.2 425.6,184.4 426.7,189.7 428.0,195.8 429.3,201.3 431.4,203.9 434.0,204.4 436.6,206.7 438.5,209.3 440.1,213.7 441.9,215.0 444.3,213.1 446.2,216.3 448.1,218.9 449.6,222.1 451.3,225.3 453.2,224.4 455.8,222.7 457.1,223.4 458.4,225.3 459.9,220.2 461.6,218.9 463.5,218.2 465.4,215.0 467.4,212.1 469.3,209.3 471.0,205.1 472.5,203.9 474.4,205.1 476.3,207.3 478.9,209.0 480.8,210.6 482.6,213.2 484.3,214.2 486.3,220.0 488.1,220.2 489.6,226.5 490.5,227.9 492.3,225.1 494.9,223.2 497.3,223.0 499.0,226.2 500.5,230.0 502.9,233.2 505.6,235.3 508.2,236.7 510.5,235.1 512.7,232.1 514.8,231.5 517.1,232.7 519.0,236.0 520.4,240.4 522.5,243.6 524.3,248.0 526.5,252.1 529.2,253.8 532.5,254.5 535.3,252.7 538.1,252.1 539.7,253.8 541.4,256.5 542.8,258.5 542.8,288.8 541.4,286.8 539.7,284.1 538.1,282.4 535.3,283.0 532.5,284.8 529.2,284.1 526.5,282.4 524.3,278.3 522.5,273.9 520.4,270.7 519.0,266.3 517.1,263.0 514.8,261.8 512.7,262.4 510.5,265.4 508.2,267.0 505.6,265.6 502.9,263.5 500.5,260.3 499.0,256.5 497.3,253.3 494.9,253.5 492.3,255.4 490.5,258.2 489.6,256.8 488.1,250.5 486.3,250.3 484.3,244.5 482.6,243.5 480.8,240.9 478.9,239.3 476.3,237.6 474.4,235.4 472.5,234.2 471.0,235.4 469.3,239.6 467.4,242.4 465.4,245.3 463.5,248.5 461.6,249.2 459.9,250.5 458.4,255.6 457.1,253.7 455.8,253.0 453.2,254.7 451.3,255.6 449.6,252.4 448.1,249.2 446.2,246.6 444.3,243.4 441.9,245.3 440.1,244.0 438.5,239.6 436.6,237.0 434.0,234.7 431.4,234.2 429.3,231.6 428.0,226.1 426.7,220.0 425.6,214.7 423.9,218.5 422.0,224.3 420.0,225.6 418.4,221.7 416.8,219.2 414.9,216.6 413.6,211.5 411.7,210.6 409.8,209.6 407.8,208.9 406.3,210.8 404.6,213.4 403.0,208.9 401.2,203.1 399.5,198.6 396.9,199.3 395.4,196.9 394.3,192.4 392.8,191.1 390.9,189.8 388.9,187.9 387.0,186.0 385.7,186.6 383.8,187.3 381.9,184.7 380.2,178.3 378.7,176.3 376.7,177.0 375.1,181.5 373.5,187.3 371.6,185.3 369.7,186.0 367.8,185.3 366.5,180.2 364.6,180.8 362.6,183.1 360.1,178.3 358.1,173.8 355.6,174.7 353.5,174.6 351.4,175.8 349.7,174.6 347.8,175.2 345.8,177.8 343.9,177.1 342.0,175.8 340.3,173.3 338.8,170.4 336.2,170.7 334.3,172.6 333.0,177.8 331.7,186.1 330.8,193.8 329.8,190.0 328.5,186.1 327.2,184.2 325.3,184.8 323.6,182.9 321.5,181.0 319.5,182.3 318.0,181.6 317.0,177.8 316.1,166.9 315.0,159.8 313.4,164.9 312.1,160.7 310.8,166.9 309.5,174.6 308.0,179.7 306.0,186.1 304.8,192.5 302.8,196.3 300.9,198.3 299.6,203.3 298.0,211.0 296.0,211.6 294.1,214.2 292.2,217.4 290.9,220.0 289.4,217.4 288.3,209.0 287.0,202.0 285.1,198.1 283.5,196.9 281.9,197.5 280.0,199.2 277.4,199.7 275.5,201.3 273.6,199.4 271.6,197.5 269.1,198.8 267.2,202.0 265.2,204.6 263.3,202.6 261.4,200.7 259.4,203.3 257.3,206.5 255.6,205.8 253.7,202.6 252.1,199.7 250.5,204.6 248.8,211.0 247.5,217.3 246.0,218.7 244.0,217.3 241.5,216.1 240.2,207.8 237.6,208.1 235.0,209.0 232.5,212.3 230.6,221.3 229.6,224.3 228.0,229.3 225.0,230.3 220.0,229.7 217.0,230.3 215.0,234.3 212.4,240.3 210.0,243.3 209.0,248.3 205.8,251.3 204.6,268.3 203.2,272.3 201.0,276.3 199.0,275.3 194.0,275.8 190.5,275.3 189.0,272.3 187.0,268.9 185.0,269.3 183.0,271.8 181.0,276.3 179.0,274.3 177.4,276.3 176.0,281.3 174.6,275.3 173.6,272.3 172.0,280.3 170.6,281.3 169.0,277.7 167.0,276.3 165.0,277.3 163.6,282.3 162.0,285.3 160.0,277.3 158.6,269.3 156.6,282.3 155.0,278.3 153.6,271.3 152.0,284.3 149.0,288.3 146.0,289.3 143.0,291.3 138.0,293.3 135.0,296.3 132.0,295.7 130.0,297.7 127.0,297.7 125.0,295.7 123.0,297.3 119.0,297.7 115.0,296.3 110.0,297.3 106.0,294.3 103.0,289.3 100.0,288.3 98.2,285.3 96.2,283.4 94.3,280.8 93.0,277.6 91.7,274.4 90.1,270.5 88.8,267.3 87.5,269.9 86.0,268.6 84.0,266.0 81.9,265.4 80.6,260.9 79.3,257.7 77.6,256.4 76.3,258.3 75.1,255.1 73.8,257.1 72.5,251.9 71.2,246.8 69.9,242.3 68.0,239.0 64.8,234.5 62.3,230.0 59.7,226.1 57.8,221.0 55.6,218.2"/>
<polygon fill="#2a98f9" points="55.6,187.9 57.8,190.7 59.7,195.8 62.3,199.7 64.8,204.2 68.0,208.7 69.9,212.0 71.2,216.5 72.5,221.6 73.8,226.8 75.1,224.8 76.3,228.0 77.6,226.1 79.3,227.4 80.6,230.6 81.9,235.1 84.0,235.7 86.0,238.3 87.5,239.6 88.8,237.0 90.1,240.2 91.7,244.1 93.0,247.3 94.3,250.5 96.2,253.1 98.2,255.0 100.0,258.0 103.0,259.0 106.0,264.0 110.0,267.0 115.0,266.0 119.0,267.4 123.0,267.0 125.0,265.4 127.0,267.4 130.0,267.4 132.0,265.4 135.0,266.0 138.0,263.0 143.0,261.0 146.0,259.0 149.0,258.0 152.0,254.0 153.6,241.0 155.0,248.0 156.6,252.0 158.6,239.0 160.0,247.0 162.0,255.0 163.6,252.0 165.0,247.0 167.0,246.0 169.0,247.4 170.6,251.0 172.0,250.0 173.6,242.0 174.6,245.0 176.0,251.0 177.4,246.0 179.0,244.0 181.0,246.0 183.0,241.5 185.0,239.0 187.0,238.6 189.0,242.0 190.5,245.0 194.0,245.5 199.0,245.0 201.0,246.0 203.2,242.0 204.6,238.0 205.8,221.0 209.0,218.0 210.0,213.0 212.4,210.0 215.0,204.0 217.0,200.0 220.0,199.4 225.0,200.0 228.0,199.0 229.6,194.0 230.6,191.0 232.5,182.0 235.0,178.7 237.6,177.8 240.2,177.5 241.5,185.8 244.0,187.0 246.0,188.4 247.5,187.0 248.8,180.7 250.5,174.3 252.1,169.4 253.7,172.3 255.6,175.5 257.3,176.2 259.4,173.0 261.4,170.4 263.3,172.3 265.2,174.3 267.2,171.7 269.1,168.5 271.6,167.2 273.6,169.1 275.5,171.0 277.4,169.4 280.0,168.9 281.9,167.2 283.5,166.6 285.1,167.8 287.0,171.7 288.3,178.7 289.4,187.1 290.9,189.7 292.2,187.1 294.1,183.9 296.0,181.3 298.0,180.7 299.6,173.0 300.9,168.0 302.8,166.0 304.8,162.2 306.0,155.8 308.0,149.4 309.5,144.3 310.8,136.6 312.1,130.4 313.4,134.6 315.0,129.5 316.1,136.6 317.0,147.5 318.0,151.3 319.5,152.0 321.5,150.7 323.6,152.6 325.3,154.5 327.2,153.9 328.5,155.8 329.8,159.7 330.8,163.5 331.7,155.8 333.0,147.5 334.3,142.3 336.2,140.4 338.8,140.1 340.3,143.0 342.0,145.5 343.9,146.8 345.8,147.5 347.8,144.9 349.7,144.3 351.4,145.5 353.5,144.3 355.6,144.4 358.1,143.5 360.1,148.0 362.6,152.8 364.6,150.5 366.5,149.9 367.8,155.0 369.7,155.7 371.6,155.0 373.5,157.0 375.1,151.2 376.7,146.7 378.7,146.0 380.2,148.0 381.9,154.4 383.8,157.0 385.7,156.3 387.0,155.7 388.9,157.6 390.9,159.5 392.8,160.8 394.3,162.1 395.4,166.6 396.9,169.0 399.5,168.3 401.2,172.8 403.0,178.6 404.6,183.1 406.3,180.5 407.8,178.6 409.8,179.3 411.7,180.3 413.6,181.2 414.9,186.3 416.8,188.9 418.4,191.4 420.0,195.3 422.0,194.0 423.9,188.2 425.6,184.4 426.7,189.7 428.0,195.8 429.3,201.3 431.4,203.9 434.0,204.4 436.6,206.7 438.5,209.3 440.1,213.7 441.9,215.0 444.3,213.1 446.2,216.3 448.1,218.9 449.6,222.1 451.3,225.3 453.2,224.4 455.8,222.7 457.1,223.4 458.4,225.3 459.9,220.2 461.6,218.9 463.5,218.2 465.4,215.0 467.4,212.1 469.3,209.3 471.0,205.1 472.5,203.9 474.4,205.1 476.3,207.3 478.9,209.0 480.8,210.6 482.6,213.2 484.3,214.2 486.3,220.0 488.1,220.2 489.6,226.5 490.5,227.9 492.3,225.1 494.9,223.2 497.3,223.0 499.0,226.2 500.5,230.0 502.9,233.2 505.6,235.3 508.2,236.7 510.5,235.1 512.7,232.1 514.8,231.5 517.1,232.7 519.0,236.0 520.4,240.4 522.5,243.6 524.3,248.0 526.5,252.1 529.2,253.8 532.5,254.5 535.3,252.7 538.1,252.1 539.7,253.8 541.4,256.5 542.8,258.5 542.8,283.9 541.4,281.9 539.7,279.2 538.1,277.5 535.3,278.1 532.5,279.9 529.2,279.2 526.5,277.5 524.3,273.4 522.5,269.0 520.4,265.8 519.0,261.4 517.1,258.1 514.8,256.9 512.7,257.5 510.5,260.5 508.2,262.1 505.6,260.7 502.9,258.6 500.5,255.4 499.0,251.6 497.3,248.4 494.9,248.6 492.3,250.5 490.5,253.3 489.6,251.9 488.1,245.6 486.3,245.4 484.3,239.6 482.6,238.6 480.8,236.0 478.9,234.4 476.3,232.7 474.4,230.5 472.5,229.3 471.0,230.5 469.3,234.7 467.4,237.5 465.4,240.4 463.5,243.6 461.6,244.3 459.9,245.6 458.4,250.7 457.1,248.8 455.8,248.1 453.2,249.8 451.3,250.7 449.6,247.5 448.1,244.3 446.2,241.7 444.3,238.5 441.9,240.4 440.1,239.1 438.5,234.7 436.6,232.1 434.0,229.8 431.4,229.3 429.3,226.7 428.0,221.2 426.7,215.1 425.6,209.8 423.9,213.6 422.0,219.4 420.0,220.7 418.4,216.8 416.8,214.3 414.9,211.7 413.6,206.6 411.7,205.7 409.8,204.7 407.8,204.0 406.3,205.9 404.6,208.5 403.0,204.0 401.2,198.2 399.5,193.7 396.9,194.4 395.4,192.0 394.3,187.5 392.8,186.2 390.9,184.9 388.9,183.0 387.0,181.1 385.7,181.7 383.8,182.4 381.9,179.8 380.2,173.4 378.7,171.4 376.7,172.1 375.1,176.6 373.5,182.4 371.6,180.4 369.7,181.1 367.8,180.4 366.5,175.3 364.6,175.9 362.6,178.2 360.1,173.4 358.1,168.9 355.6,169.8 353.5,169.7 351.4,170.9 349.7,169.7 347.8,170.3 345.8,172.9 343.9,172.2 342.0,170.9 340.3,168.4 338.8,165.5 336.2,165.8 334.3,167.7 333.0,172.9 331.7,181.2 330.8,188.9 329.8,185.1 328.5,181.2 327.2,179.3 325.3,179.9 323.6,178.0 321.5,176.1 319.5,177.4 318.0,176.7 317.0,172.9 316.1,162.0 315.0,154.9 313.4,160.0 312.1,155.8 310.8,162.0 309.5,169.7 308.0,174.8 306.0,181.2 304.8,187.6 302.8,191.4 300.9,193.4 299.6,198.4 298.0,206.1 296.0,206.7 294.1,209.3 292.2,212.5 290.9,215.1 289.4,212.5 288.3,204.1 287.0,197.1 285.1,193.2 283.5,192.0 281.9,192.6 280.0,194.3 277.4,194.8 275.5,196.4 273.6,194.5 271.6,192.6 269.1,193.9 267.2,197.1 265.2,199.7 263.3,197.7 261.4,195.8 259.4,198.4 257.3,201.6 255.6,200.9 253.7,197.7 252.1,194.8 250.5,199.7 248.8,206.1 247.5,212.4 246.0,213.8 244.0,212.4 241.5,211.2 240.2,202.9 237.6,203.2 235.0,204.1 232.5,207.4 230.6,216.4 229.6,219.4 228.0,224.4 225.0,225.4 220.0,224.8 217.0,225.4 215.0,229.4 212.4,235.4 210.0,238.4 209.0,243.4 205.8,246.4 204.6,263.4 203.2,267.4 201.0,271.4 199.0,270.4 194.0,270.9 190.5,270.4 189.0,267.4 187.0,264.0 185.0,264.4 183.0,266.9 181.0,271.4 179.0,269.4 177.4,271.4 176.0,276.4 174.6,270.4 173.6,267.4 172.0,275.4 170.6,276.4 169.0,272.8 167.0,271.4 165.0,272.4 163.6,277.4 162.0,280.4 160.0,272.4 158.6,264.4 156.6,277.4 155.0,273.4 153.6,266.4 152.0,279.4 149.0,283.4 146.0,284.4 143.0,286.4 138.0,288.4 135.0,291.4 132.0,290.8 130.0,292.8 127.0,292.8 125.0,290.8 123.0,292.4 119.0,292.8 115.0,291.4 110.0,292.4 106.0,289.4 103.0,284.4 100.0,283.4 98.2,280.4 96.2,278.5 94.3,275.9 93.0,272.7 91.7,269.5 90.1,265.6 88.8,262.4 87.5,265.0 86.0,263.7 84.0,261.1 81.9,260.5 80.6,256.0 79.3,252.8 77.6,251.5 76.3,253.4 75.1,250.2 73.8,252.2 72.5,247.0 71.2,241.9 69.9,237.4 68.0,234.1 64.8,229.6 62.3,225.1 59.7,221.2 57.8,216.1 55.6,213.3"/>
<polygon fill="#1e90f8" points="55.6,187.9 57.8,190.7 59.7,195.8 62.3,199.7 64.8,204.2 68.0,208.7 69.9,212.0 71.2,216.5 72.5,221.6 73.8,226.8 75.1,224.8 76.3,228.0 77.6,226.1 79.3,227.4 80.6,230.6 81.9,235.1 84.0,235.7 86.0,238.3 87.5,239.6 88.8,237.0 90.1,240.2 91.7,244.1 93.0,247.3 94.3,250.5 96.2,253.1 98.2,255.0 100.0,258.0 103.0,259.0 106.0,264.0 110.0,267.0 115.0,266.0 119.0,267.4 123.0,267.0 125.0,265.4 127.0,267.4 130.0,267.4 132.0,265.4 135.0,266.0 138.0,263.0 143.0,261.0 146.0,259.0 149.0,258.0 152.0,254.0 153.6,241.0 155.0,248.0 156.6,252.0 158.6,239.0 160.0,247.0 162.0,255.0 163.6,252.0 165.0,247.0 167.0,246.0 169.0,247.4 170.6,251.0 172.0,250.0 173.6,242.0 174.6,245.0 176.0,251.0 177.4,246.0 179.0,244.0 181.0,246.0 183.0,241.5 185.0,239.0 187.0,238.6 189.0,242.0 190.5,245.0 194.0,245.5 199.0,245.0 201.0,246.0 203.2,242.0 204.6,238.0 205.8,221.0 209.0,218.0 210.0,213.0 212.4,210.0 215.0,204.0 217.0,200.0 220.0,199.4 225.0,200.0 228.0,199.0 229.6,194.0 230.6,191.0 232.5,182.0 235.0,178.7 237.6,177.8 240.2,177.5 241.5,185.8 244.0,187.0 246.0,188.4 247.5,187.0 248.8,180.7 250.5,174.3 252.1,169.4 253.7,172.3 255.6,175.5 257.3,176.2 259.4,173.0 261.4,170.4 263.3,172.3 265.2,174.3 267.2,171.7 269.1,168.5 271.6,167.2 273.6,169.1 275.5,171.0 277.4,169.4 280.0,168.9 281.9,167.2 283.5,166.6 285.1,167.8 287.0,171.7 288.3,178.7 289.4,187.1 290.9,189.7 292.2,187.1 294.1,183.9 296.0,181.3 298.0,180.7 299.6,173.0 300.9,168.0 302.8,166.0 304.8,162.2 306.0,155.8 308.0,149.4 309.5,144.3 310.8,136.6 312.1,130.4 313.4,134.6 315.0,129.5 316.1,136.6 317.0,147.5 318.0,151.3 319.5,152.0 321.5,150.7 323.6,152.6 325.3,154.5 327.2,153.9 328.5,155.8 329.8,159.7 330.8,163.5 331.7,155.8 333.0,147.5 334.3,142.3 336.2,140.4 338.8,140.1 340.3,143.0 342.0,145.5 343.9,146.8 345.8,147.5 347.8,144.9 349.7,144.3 351.4,145.5 353.5,144.3 355.6,144.4 358.1,143.5 360.1,148.0 362.6,152.8 364.6,150.5 366.5,149.9 367.8,155.0 369.7,155.7 371.6,155.0 373.5,157.0 375.1,151.2 376.7,146.7 378.7,146.0 380.2,148.0 381.9,154.4 383.8,157.0 385.7,156.3 387.0,155.7 388.9,157.6 390.9,159.5 392.8,160.8 394.3,162.1 395.4,166.6 396.9,169.0 399.5,168.3 401.2,172.8 403.0,178.6 404.6,183.1 406.3,180.5 407.8,178.6 409.8,179.3 411.7,180.3 413.6,181.2 414.9,186.3 416.8,188.9 418.4,191.4 420.0,195.3 422.0,194.0 423.9,188.2 425.6,184.4 426.7,189.7 428.0,195.8 429.3,201.3 431.4,203.9 434.0,204.4 436.6,206.7 438.5,209.3 440.1,213.7 441.9,215.0 444.3,213.1 446.2,216.3 448.1,218.9 449.6,222.1 451.3,225.3 453.2,224.4 455.8,222.7 457.1,223.4 458.4,225.3 459.9,220.2 461.6,218.9 463.5,218.2 465.4,215.0 467.4,212.1 469.3,209.3 471.0,205.1 472.5,203.9 474.4,205.1 476.3,207.3 478.9,209.0 480.8,210.6 482.6,213.2 484.3,214.2 486.3,220.0 488.1,220.2 489.6,226.5 490.5,227.9 492.3,225.1 494.9,223.2 497.3,223.0 499.0,226.2 500.5,230.0 502.9,233.2 505.6,235.3 508.2,236.7 510.5,235.1 512.7,232.1 514.8,231.5 517.1,232.7 519.0,236.0 520.4,240.4 522.5,243.6 524.3,248.0 526.5,252.1 529.2,253.8 532.5,254.5 535.3,252.7 538.1,252.1 539.7,253.8 541.4,256.5 542.8,258.5 542.8,280.3 541.4,278.3 539.7,275.6 538.1,273.9 535.3,274.5 532.5,276.3 529.2,275.6 526.5,273.9 524.3,269.8 522.5,265.4 520.4,262.2 519.0,257.8 517.1,254.5 514.8,253.3 512.7,253.9 510.5,256.9 508.2,258.5 505.6,257.1 502.9,255.0 500.5,251.8 499.0,248.0 497.3,244.8 494.9,245.0 492.3,246.9 490.5,249.7 489.6,248.3 488.1,242.0 486.3,241.8 484.3,236.0 482.6,235.0 480.8,232.4 478.9,230.8 476.3,229.1 474.4,226.9 472.5,225.7 471.0,226.9 469.3,231.1 467.4,233.9 465.4,236.8 463.5,240.0 461.6,240.7 459.9,242.0 458.4,247.1 457.1,245.2 455.8,244.5 453.2,246.2 451.3,247.1 449.6,243.9 448.1,240.7 446.2,238.1 444.3,234.9 441.9,236.8 440.1,235.5 438.5,231.1 436.6,228.5 434.0,226.2 431.4,225.7 429.3,223.1 428.0,217.6 426.7,211.5 425.6,206.2 423.9,210.0 422.0,215.8 420.0,217.1 418.4,213.2 416.8,210.7 414.9,208.1 413.6,203.0 411.7,202.1 409.8,201.1 407.8,200.4 406.3,202.3 404.6,204.9 403.0,200.4 401.2,194.6 399.5,190.1 396.9,190.8 395.4,188.4 394.3,183.9 392.8,182.6 390.9,181.3 388.9,179.4 387.0,177.5 385.7,178.1 383.8,178.8 381.9,176.2 380.2,169.8 378.7,167.8 376.7,168.5 375.1,173.0 373.5,178.8 371.6,176.8 369.7,177.5 367.8,176.8 366.5,171.7 364.6,172.3 362.6,174.6 360.1,169.8 358.1,165.3 355.6,166.2 353.5,166.1 351.4,167.3 349.7,166.1 347.8,166.7 345.8,169.3 343.9,168.6 342.0,167.3 340.3,164.8 338.8,161.9 336.2,162.2 334.3,164.1 333.0,169.3 331.7,177.6 330.8,185.3 329.8,181.5 328.5,177.6 327.2,175.7 325.3,176.3 323.6,174.4 321.5,172.5 319.5,173.8 318.0,173.1 317.0,169.3 316.1,158.4 315.0,151.3 313.4,156.4 312.1,152.2 310.8,158.4 309.5,166.1 308.0,171.2 306.0,177.6 304.8,184.0 302.8,187.8 300.9,189.8 299.6,194.8 298.0,202.5 296.0,203.1 294.1,205.7 292.2,208.9 290.9,211.5 289.4,208.9 288.3,200.5 287.0,193.5 285.1,189.6 283.5,188.4 281.9,189.0 280.0,190.7 277.4,191.2 275.5,192.8 273.6,190.9 271.6,189.0 269.1,190.3 267.2,193.5 265.2,196.1 263.3,194.1 261.4,192.2 259.4,194.8 257.3,198.0 255.6,197.3 253.7,194.1 252.1,191.2 250.5,196.1 248.8,202.5 247.5,208.8 246.0,210.2 244.0,208.8 241.5,207.6 240.2,199.3 237.6,199.6 235.0,200.5 232.5,203.8 230.6,212.8 229.6,215.8 228.0,220.8 225.0,221.8 220.0,221.2 217.0,221.8 215.0,225.8 212.4,231.8 210.0,234.8 209.0,239.8 205.8,242.8 204.6,259.8 203.2,263.8 201.0,267.8 199.0,266.8 194.0,267.3 190.5,266.8 189.0,263.8 187.0,260.4 185.0,260.8 183.0,263.3 181.0,267.8 179.0,265.8 177.4,267.8 176.0,272.8 174.6,266.8 173.6,263.8 172.0,271.8 170.6,272.8 169.0,269.2 167.0,267.8 165.0,268.8 163.6,273.8 162.0,276.8 160.0,268.8 158.6,260.8 156.6,273.8 155.0,269.8 153.6,262.8 152.0,275.8 149.0,279.8 146.0,280.8 143.0,282.8 138.0,284.8 135.0,287.8 132.0,287.2 130.0,289.2 127.0,289.2 125.0,287.2 123.0,288.8 119.0,289.2 115.0,287.8 110.0,288.8 106.0,285.8 103.0,280.8 100.0,279.8 98.2,276.8 96.2,274.9 94.3,272.3 93.0,269.1 91.7,265.9 90.1,262.0 88.8,258.8 87.5,261.4 86.0,260.1 84.0,257.5 81.9,256.9 80.6,252.4 79.3,249.2 77.6,247.9 76.3,249.8 75.1,246.6 73.8,248.6 72.5,243.4 71.2,238.3 69.9,233.8 68.0,230.5 64.8,226.0 62.3,221.5 59.7,217.6 57.8,212.5 55.6,209.7"/>
<polygon fill="#1686f5" points="55.6,187.9 57.8,190.7 59.7,195.8 62.3,199.7 64.8,204.2 68.0,208.7 69.9,212.0 71.2,216.5 72.5,221.6 73.8,226.8 75.1,224.8 76.3,228.0 77.6,226.1 79.3,227.4 80.6,230.6 81.9,235.1 84.0,235.7 86.0,238.3 87.5,239.6 88.8,237.0 90.1,240.2 91.7,244.1 93.0,247.3 94.3,250.5 96.2,253.1 98.2,255.0 100.0,258.0 103.0,259.0 106.0,264.0 110.0,267.0 115.0,266.0 119.0,267.4 123.0,267.0 125.0,265.4 127.0,267.4 130.0,267.4 132.0,265.4 135.0,266.0 138.0,263.0 143.0,261.0 146.0,259.0 149.0,258.0 152.0,254.0 153.6,241.0 155.0,248.0 156.6,252.0 158.6,239.0 160.0,247.0 162.0,255.0 163.6,252.0 165.0,247.0 167.0,246.0 169.0,247.4 170.6,251.0 172.0,250.0 173.6,242.0 174.6,245.0 176.0,251.0 177.4,246.0 179.0,244.0 181.0,246.0 183.0,241.5 185.0,239.0 187.0,238.6 189.0,242.0 190.5,245.0 194.0,245.5 199.0,245.0 201.0,246.0 203.2,242.0 204.6,238.0 205.8,221.0 209.0,218.0 210.0,213.0 212.4,210.0 215.0,204.0 217.0,200.0 220.0,199.4 225.0,200.0 228.0,199.0 229.6,194.0 230.6,191.0 232.5,182.0 235.0,178.7 237.6,177.8 240.2,177.5 241.5,185.8 244.0,187.0 246.0,188.4 247.5,187.0 248.8,180.7 250.5,174.3 252.1,169.4 253.7,172.3 255.6,175.5 257.3,176.2 259.4,173.0 261.4,170.4 263.3,172.3 265.2,174.3 267.2,171.7 269.1,168.5 271.6,167.2 273.6,169.1 275.5,171.0 277.4,169.4 280.0,168.9 281.9,167.2 283.5,166.6 285.1,167.8 287.0,171.7 288.3,178.7 289.4,187.1 290.9,189.7 292.2,187.1 294.1,183.9 296.0,181.3 298.0,180.7 299.6,173.0 300.9,168.0 302.8,166.0 304.8,162.2 306.0,155.8 308.0,149.4 309.5,144.3 310.8,136.6 312.1,130.4 313.4,134.6 315.0,129.5 316.1,136.6 317.0,147.5 318.0,151.3 319.5,152.0 321.5,150.7 323.6,152.6 325.3,154.5 327.2,153.9 328.5,155.8 329.8,159.7 330.8,163.5 331.7,155.8 333.0,147.5 334.3,142.3 336.2,140.4 338.8,140.1 340.3,143.0 342.0,145.5 343.9,146.8 345.8,147.5 347.8,144.9 349.7,144.3 351.4,145.5 353.5,144.3 355.6,144.4 358.1,143.5 360.1,148.0 362.6,152.8 364.6,150.5 366.5,149.9 367.8,155.0 369.7,155.7 371.6,155.0 373.5,157.0 375.1,151.2 376.7,146.7 378.7,146.0 380.2,148.0 381.9,154.4 383.8,157.0 385.7,156.3 387.0,155.7 388.9,157.6 390.9,159.5 392.8,160.8 394.3,162.1 395.4,166.6 396.9,169.0 399.5,168.3 401.2,172.8 403.0,178.6 404.6,183.1 406.3,180.5 407.8,178.6 409.8,179.3 411.7,180.3 413.6,181.2 414.9,186.3 416.8,188.9 418.4,191.4 420.0,195.3 422.0,194.0 423.9,188.2 425.6,184.4 426.7,189.7 428.0,195.8 429.3,201.3 431.4,203.9 434.0,204.4 436.6,206.7 438.5,209.3 440.1,213.7 441.9,215.0 444.3,213.1 446.2,216.3 448.1,218.9 449.6,222.1 451.3,225.3 453.2,224.4 455.8,222.7 457.1,223.4 458.4,225.3 459.9,220.2 461.6,218.9 463.5,218.2 465.4,215.0 467.4,212.1 469.3,209.3 471.0,205.1 472.5,203.9 474.4,205.1 476.3,207.3 478.9,209.0 480.8,210.6 482.6,213.2 484.3,214.2 486.3,220.0 488.1,220.2 489.6,226.5 490.5,227.9 492.3,225.1 494.9,223.2 497.3,223.0 499.0,226.2 500.5,230.0 502.9,233.2 505.6,235.3 508.2,236.7 510.5,235.1 512.7,232.1 514.8,231.5 517.1,232.7 519.0,236.0 520.4,240.4 522.5,243.6 524.3,248.0 526.5,252.1 529.2,253.8 532.5,254.5 535.3,252.7 538.1,252.1 539.7,253.8 541.4,256.5 542.8,258.5 542.8,277.4 541.4,275.4 539.7,272.7 538.1,271.0 535.3,271.6 532.5,273.4 529.2,272.7 526.5,271.0 524.3,266.9 522.5,262.5 520.4,259.3 519.0,254.9 517.1,251.6 514.8,250.4 512.7,251.0 510.5,254.0 508.2,255.6 505.6,254.2 502.9,252.1 500.5,248.9 499.0,245.1 497.3,241.9 494.9,242.1 492.3,244.0 490.5,246.8 489.6,245.4 488.1,239.1 486.3,238.9 484.3,233.1 482.6,232.1 480.8,229.5 478.9,227.9 476.3,226.2 474.4,224.0 472.5,222.8 471.0,224.0 469.3,228.2 467.4,231.0 465.4,233.9 463.5,237.1 461.6,237.8 459.9,239.1 458.4,244.2 457.1,242.3 455.8,241.6 453.2,243.3 451.3,244.2 449.6,241.0 448.1,237.8 446.2,235.2 444.3,232.0 441.9,233.9 440.1,232.6 438.5,228.2 436.6,225.6 434.0,223.3 431.4,222.8 429.3,220.2 428.0,214.7 426.7,208.6 425.6,203.3 423.9,207.1 422.0,212.9 420.0,214.2 418.4,210.3 416.8,207.8 414.9,205.2 413.6,200.1 411.7,199.2 409.8,198.2 407.8,197.5 406.3,199.4 404.6,202.0 403.0,197.5 401.2,191.7 399.5,187.2 396.9,187.9 395.4,185.5 394.3,181.0 392.8,179.7 390.9,178.4 388.9,176.5 387.0,174.6 385.7,175.2 383.8,175.9 381.9,173.3 380.2,166.9 378.7,164.9 376.7,165.6 375.1,170.1 373.5,175.9 371.6,173.9 369.7,174.6 367.8,173.9 366.5,168.8 364.6,169.4 362.6,171.7 360.1,166.9 358.1,162.4 355.6,163.3 353.5,163.2 351.4,164.4 349.7,163.2 347.8,163.8 345.8,166.4 343.9,165.7 342.0,164.4 340.3,161.9 338.8,159.0 336.2,159.3 334.3,161.2 333.0,166.4 331.7,174.7 330.8,182.4 329.8,178.6 328.5,174.7 327.2,172.8 325.3,173.4 323.6,171.5 321.5,169.6 319.5,170.9 318.0,170.2 317.0,166.4 316.1,155.5 315.0,148.4 313.4,153.5 312.1,149.3 310.8,155.5 309.5,163.2 308.0,168.3 306.0,174.7 304.8,181.1 302.8,184.9 300.9,186.9 299.6,191.9 298.0,199.6 296.0,200.2 294.1,202.8 292.2,206.0 290.9,208.6 289.4,206.0 288.3,197.6 287.0,190.6 285.1,186.7 283.5,185.5 281.9,186.1 280.0,187.8 277.4,188.3 275.5,189.9 273.6,188.0 271.6,186.1 269.1,187.4 267.2,190.6 265.2,193.2 263.3,191.2 261.4,189.3 259.4,191.9 257.3,195.1 255.6,194.4 253.7,191.2 252.1,188.3 250.5,193.2 248.8,199.6 247.5,205.9 246.0,207.3 244.0,205.9 241.5,204.7 240.2,196.4 237.6,196.7 235.0,197.6 232.5,200.9 230.6,209.9 229.6,212.9 228.0,217.9 225.0,218.9 220.0,218.3 217.0,218.9 215.0,222.9 212.4,228.9 210.0,231.9 209.0,236.9 205.8,239.9 204.6,256.9 203.2,260.9 201.0,264.9 199.0,263.9 194.0,264.4 190.5,263.9 189.0,260.9 187.0,257.5 185.0,257.9 183.0,260.4 181.0,264.9 179.0,262.9 177.4,264.9 176.0,269.9 174.6,263.9 173.6,260.9 172.0,268.9 170.6,269.9 169.0,266.3 167.0,264.9 165.0,265.9 163.6,270.9 162.0,273.9 160.0,265.9 158.6,257.9 156.6,270.9 155.0,266.9 153.6,259.9 152.0,272.9 149.0,276.9 146.0,277.9 143.0,279.9 138.0,281.9 135.0,284.9 132.0,284.3 130.0,286.3 127.0,286.3 125.0,284.3 123.0,285.9 119.0,286.3 115.0,284.9 110.0,285.9 106.0,282.9 103.0,277.9 100.0,276.9 98.2,273.9 96.2,272.0 94.3,269.4 93.0,266.2 91.7,263.0 90.1,259.1 88.8,255.9 87.5,258.5 86.0,257.2 84.0,254.6 81.9,254.0 80.6,249.5 79.3,246.3 77.6,245.0 76.3,246.9 75.1,243.7 73.8,245.7 72.5,240.5 71.2,235.4 69.9,230.9 68.0,227.6 64.8,223.1 62.3,218.6 59.7,214.7 57.8,209.6 55.6,206.8"/>
<polygon fill="#107cf0" points="55.6,187.9 57.8,190.7 59.7,195.8 62.3,199.7 64.8,204.2 68.0,208.7 69.9,212.0 71.2,216.5 72.5,221.6 73.8,226.8 75.1,224.8 76.3,228.0 77.6,226.1 79.3,227.4 80.6,230.6 81.9,235.1 84.0,235.7 86.0,238.3 87.5,239.6 88.8,237.0 90.1,240.2 91.7,244.1 93.0,247.3 94.3,250.5 96.2,253.1 98.2,255.0 100.0,258.0 103.0,259.0 106.0,264.0 110.0,267.0 115.0,266.0 119.0,267.4 123.0,267.0 125.0,265.4 127.0,267.4 130.0,267.4 132.0,265.4 135.0,266.0 138.0,263.0 143.0,261.0 146.0,259.0 149.0,258.0 152.0,254.0 153.6,241.0 155.0,248.0 156.6,252.0 158.6,239.0 160.0,247.0 162.0,255.0 163.6,252.0 165.0,247.0 167.0,246.0 169.0,247.4 170.6,251.0 172.0,250.0 173.6,242.0 174.6,245.0 176.0,251.0 177.4,246.0 179.0,244.0 181.0,246.0 183.0,241.5 185.0,239.0 187.0,238.6 189.0,242.0 190.5,245.0 194.0,245.5 199.0,245.0 201.0,246.0 203.2,242.0 204.6,238.0 205.8,221.0 209.0,218.0 210.0,213.0 212.4,210.0 215.0,204.0 217.0,200.0 220.0,199.4 225.0,200.0 228.0,199.0 229.6,194.0 230.6,191.0 232.5,182.0 235.0,178.7 237.6,177.8 240.2,177.5 241.5,185.8 244.0,187.0 246.0,188.4 247.5,187.0 248.8,180.7 250.5,174.3 252.1,169.4 253.7,172.3 255.6,175.5 257.3,176.2 259.4,173.0 261.4,170.4 263.3,172.3 265.2,174.3 267.2,171.7 269.1,168.5 271.6,167.2 273.6,169.1 275.5,171.0 277.4,169.4 280.0,168.9 281.9,167.2 283.5,166.6 285.1,167.8 287.0,171.7 288.3,178.7 289.4,187.1 290.9,189.7 292.2,187.1 294.1,183.9 296.0,181.3 298.0,180.7 299.6,173.0 300.9,168.0 302.8,166.0 304.8,162.2 306.0,155.8 308.0,149.4 309.5,144.3 310.8,136.6 312.1,130.4 313.4,134.6 315.0,129.5 316.1,136.6 317.0,147.5 318.0,151.3 319.5,152.0 321.5,150.7 323.6,152.6 325.3,154.5 327.2,153.9 328.5,155.8 329.8,159.7 330.8,163.5 331.7,155.8 333.0,147.5 334.3,142.3 336.2,140.4 338.8,140.1 340.3,143.0 342.0,145.5 343.9,146.8 345.8,147.5 347.8,144.9 349.7,144.3 351.4,145.5 353.5,144.3 355.6,144.4 358.1,143.5 360.1,148.0 362.6,152.8 364.6,150.5 366.5,149.9 367.8,155.0 369.7,155.7 371.6,155.0 373.5,157.0 375.1,151.2 376.7,146.7 378.7,146.0 380.2,148.0 381.9,154.4 383.8,157.0 385.7,156.3 387.0,155.7 388.9,157.6 390.9,159.5 392.8,160.8 394.3,162.1 395.4,166.6 396.9,169.0 399.5,168.3 401.2,172.8 403.0,178.6 404.6,183.1 406.3,180.5 407.8,178.6 409.8,179.3 411.7,180.3 413.6,181.2 414.9,186.3 416.8,188.9 418.4,191.4 420.0,195.3 422.0,194.0 423.9,188.2 425.6,184.4 426.7,189.7 428.0,195.8 429.3,201.3 431.4,203.9 434.0,204.4 436.6,206.7 438.5,209.3 440.1,213.7 441.9,215.0 444.3,213.1 446.2,216.3 448.1,218.9 449.6,222.1 451.3,225.3 453.2,224.4 455.8,222.7 457.1,223.4 458.4,225.3 459.9,220.2 461.6,218.9 463.5,218.2 465.4,215.0 467.4,212.1 469.3,209.3 471.0,205.1 472.5,203.9 474.4,205.1 476.3,207.3 478.9,209.0 480.8,210.6 482.6,213.2 484.3,214.2 486.3,220.0 488.1,220.2 489.6,226.5 490.5,227.9 492.3,225.1 494.9,223.2 497.3,223.0 499.0,226.2 500.5,230.0 502.9,233.2 505.6,235.3 508.2,236.7 510.5,235.1 512.7,232.1 514.8,231.5 517.1,232.7 519.0,236.0 520.4,240.4 522.5,243.6 524.3,248.0 526.5,252.1 529.2,253.8 532.5,254.5 535.3,252.7 538.1,252.1 539.7,253.8 541.4,256.5 542.8,258.5 542.8,274.8 541.4,272.8 539.7,270.1 538.1,268.4 535.3,269.0 532.5,270.8 529.2,270.1 526.5,268.4 524.3,264.3 522.5,259.9 520.4,256.7 519.0,252.3 517.1,249.0 514.8,247.8 512.7,248.4 510.5,251.4 508.2,253.0 505.6,251.6 502.9,249.5 500.5,246.3 499.0,242.5 497.3,239.3 494.9,239.5 492.3,241.4 490.5,244.2 489.6,242.8 488.1,236.5 486.3,236.3 484.3,230.5 482.6,229.5 480.8,226.9 478.9,225.3 476.3,223.6 474.4,221.4 472.5,220.2 471.0,221.4 469.3,225.6 467.4,228.4 465.4,231.3 463.5,234.5 461.6,235.2 459.9,236.5 458.4,241.6 457.1,239.7 455.8,239.0 453.2,240.7 451.3,241.6 449.6,238.4 448.1,235.2 446.2,232.6 444.3,229.4 441.9,231.3 440.1,230.0 438.5,225.6 436.6,223.0 434.0,220.7 431.4,220.2 429.3,217.6 428.0,212.1 426.7,206.0 425.6,200.7 423.9,204.5 422.0,210.3 420.0,211.6 418.4,207.7 416.8,205.2 414.9,202.6 413.6,197.5 411.7,196.6 409.8,195.6 407.8,194.9 406.3,196.8 404.6,199.4 403.0,194.9 401.2,189.1 399.5,184.6 396.9,185.3 395.4,182.9 394.3,178.4 392.8,177.1 390.9,175.8 388.9,173.9 387.0,172.0 385.7,172.6 383.8,173.3 381.9,170.7 380.2,164.3 378.7,162.3 376.7,163.0 375.1,167.5 373.5,173.3 371.6,171.3 369.7,172.0 367.8,171.3 366.5,166.2 364.6,166.8 362.6,169.1 360.1,164.3 358.1,159.8 355.6,160.7 353.5,160.6 351.4,161.8 349.7,160.6 347.8,161.2 345.8,163.8 343.9,163.1 342.0,161.8 340.3,159.3 338.8,156.4 336.2,156.7 334.3,158.6 333.0,163.8 331.7,172.1 330.8,179.8 329.8,176.0 328.5,172.1 327.2,170.2 325.3,170.8 323.6,168.9 321.5,167.0 319.5,168.3 318.0,167.6 317.0,163.8 316.1,152.9 315.0,145.8 313.4,150.9 312.1,146.7 310.8,152.9 309.5,160.6 308.0,165.7 306.0,172.1 304.8,178.5 302.8,182.3 300.9,184.3 299.6,189.3 298.0,197.0 296.0,197.6 294.1,200.2 292.2,203.4 290.9,206.0 289.4,203.4 288.3,195.0 287.0,188.0 285.1,184.1 283.5,182.9 281.9,183.5 280.0,185.2 277.4,185.7 275.5,187.3 273.6,185.4 271.6,183.5 269.1,184.8 267.2,188.0 265.2,190.6 263.3,188.6 261.4,186.7 259.4,189.3 257.3,192.5 255.6,191.8 253.7,188.6 252.1,185.7 250.5,190.6 248.8,197.0 247.5,203.3 246.0,204.7 244.0,203.3 241.5,202.1 240.2,193.8 237.6,194.1 235.0,195.0 232.5,198.3 230.6,207.3 229.6,210.3 228.0,215.3 225.0,216.3 220.0,215.7 217.0,216.3 215.0,220.3 212.4,226.3 210.0,229.3 209.0,234.3 205.8,237.3 204.6,254.3 203.2,258.3 201.0,262.3 199.0,261.3 194.0,261.8 190.5,261.3 189.0,258.3 187.0,254.9 185.0,255.3 183.0,257.8 181.0,262.3 179.0,260.3 177.4,262.3 176.0,267.3 174.6,261.3 173.6,258.3 172.0,266.3 170.6,267.3 169.0,263.7 167.0,262.3 165.0,263.3 163.6,268.3 162.0,271.3 160.0,263.3 158.6,255.3 156.6,268.3 155.0,264.3 153.6,257.3 152.0,270.3 149.0,274.3 146.0,275.3 143.0,277.3 138.0,279.3 135.0,282.3 132.0,281.7 130.0,283.7 127.0,283.7 125.0,281.7 123.0,283.3 119.0,283.7 115.0,282.3 110.0,283.3 106.0,280.3 103.0,275.3 100.0,274.3 98.2,271.3 96.2,269.4 94.3,266.8 93.0,263.6 91.7,260.4 90.1,256.5 88.8,253.3 87.5,255.9 86.0,254.6 84.0,252.0 81.9,251.4 80.6,246.9 79.3,243.7 77.6,242.4 76.3,244.3 75.1,241.1 73.8,243.1 72.5,237.9 71.2,232.8 69.9,228.3 68.0,225.0 64.8,220.5 62.3,216.0 59.7,212.1 57.8,207.0 55.6,204.2"/>
<polygon fill="#0c6ce6" points="55.6,187.9 57.8,190.7 59.7,195.8 62.3,199.7 64.8,204.2 68.0,208.7 69.9,212.0 71.2,216.5 72.5,221.6 73.8,226.8 75.1,224.8 76.3,228.0 77.6,226.1 79.3,227.4 80.6,230.6 81.9,235.1 84.0,235.7 86.0,238.3 87.5,239.6 88.8,237.0 90.1,240.2 91.7,244.1 93.0,247.3 94.3,250.5 96.2,253.1 98.2,255.0 100.0,258.0 103.0,259.0 106.0,264.0 110.0,267.0 115.0,266.0 119.0,267.4 123.0,267.0 125.0,265.4 127.0,267.4 130.0,267.4 132.0,265.4 135.0,266.0 138.0,263.0 143.0,261.0 146.0,259.0 149.0,258.0 152.0,254.0 153.6,241.0 155.0,248.0 156.6,252.0 158.6,239.0 160.0,247.0 162.0,255.0 163.6,252.0 165.0,247.0 167.0,246.0 169.0,247.4 170.6,251.0 172.0,250.0 173.6,242.0 174.6,245.0 176.0,251.0 177.4,246.0 179.0,244.0 181.0,246.0 183.0,241.5 185.0,239.0 187.0,238.6 189.0,242.0 190.5,245.0 194.0,245.5 199.0,245.0 201.0,246.0 203.2,242.0 204.6,238.0 205.8,221.0 209.0,218.0 210.0,213.0 212.4,210.0 215.0,204.0 217.0,200.0 220.0,199.4 225.0,200.0 228.0,199.0 229.6,194.0 230.6,191.0 232.5,182.0 235.0,178.7 237.6,177.8 240.2,177.5 241.5,185.8 244.0,187.0 246.0,188.4 247.5,187.0 248.8,180.7 250.5,174.3 252.1,169.4 253.7,172.3 255.6,175.5 257.3,176.2 259.4,173.0 261.4,170.4 263.3,172.3 265.2,174.3 267.2,171.7 269.1,168.5 271.6,167.2 273.6,169.1 275.5,171.0 277.4,169.4 280.0,168.9 281.9,167.2 283.5,166.6 285.1,167.8 287.0,171.7 288.3,178.7 289.4,187.1 290.9,189.7 292.2,187.1 294.1,183.9 296.0,181.3 298.0,180.7 299.6,173.0 300.9,168.0 302.8,166.0 304.8,162.2 306.0,155.8 308.0,149.4 309.5,144.3 310.8,136.6 312.1,130.4 313.4,134.6 315.0,129.5 316.1,136.6 317.0,147.5 318.0,151.3 319.5,152.0 321.5,150.7 323.6,152.6 325.3,154.5 327.2,153.9 328.5,155.8 329.8,159.7 330.8,163.5 331.7,155.8 333.0,147.5 334.3,142.3 336.2,140.4 338.8,140.1 340.3,143.0 342.0,145.5 343.9,146.8 345.8,147.5 347.8,144.9 349.7,144.3 351.4,145.5 353.5,144.3 355.6,144.4 358.1,143.5 360.1,148.0 362.6,152.8 364.6,150.5 366.5,149.9 367.8,155.0 369.7,155.7 371.6,155.0 373.5,157.0 375.1,151.2 376.7,146.7 378.7,146.0 380.2,148.0 381.9,154.4 383.8,157.0 385.7,156.3 387.0,155.7 388.9,157.6 390.9,159.5 392.8,160.8 394.3,162.1 395.4,166.6 396.9,169.0 399.5,168.3 401.2,172.8 403.0,178.6 404.6,183.1 406.3,180.5 407.8,178.6 409.8,179.3 411.7,180.3 413.6,181.2 414.9,186.3 416.8,188.9 418.4,191.4 420.0,195.3 422.0,194.0 423.9,188.2 425.6,184.4 426.7,189.7 428.0,195.8 429.3,201.3 431.4,203.9 434.0,204.4 436.6,206.7 438.5,209.3 440.1,213.7 441.9,215.0 444.3,213.1 446.2,216.3 448.1,218.9 449.6,222.1 451.3,225.3 453.2,224.4 455.8,222.7 457.1,223.4 458.4,225.3 459.9,220.2 461.6,218.9 463.5,218.2 465.4,215.0 467.4,212.1 469.3,209.3 471.0,205.1 472.5,203.9 474.4,205.1 476.3,207.3 478.9,209.0 480.8,210.6 482.6,213.2 484.3,214.2 486.3,220.0 488.1,220.2 489.6,226.5 490.5,227.9 492.3,225.1 494.9,223.2 497.3,223.0 499.0,226.2 500.5,230.0 502.9,233.2 505.6,235.3 508.2,236.7 510.5,235.1 512.7,232.1 514.8,231.5 517.1,232.7 519.0,236.0 520.4,240.4 522.5,243.6 524.3,248.0 526.5,252.1 529.2,253.8 532.5,254.5 535.3,252.7 538.1,252.1 539.7,253.8 541.4,256.5 542.8,258.5 542.8,272.3 541.4,270.3 539.7,267.6 538.1,265.9 535.3,266.5 532.5,268.3 529.2,267.6 526.5,265.9 524.3,261.8 522.5,257.4 520.4,254.2 519.0,249.8 517.1,246.5 514.8,245.3 512.7,245.9 510.5,248.9 508.2,250.5 505.6,249.1 502.9,247.0 500.5,243.8 499.0,240.0 497.3,236.8 494.9,237.0 492.3,238.9 490.5,241.7 489.6,240.3 488.1,234.0 486.3,233.8 484.3,228.0 482.6,227.0 480.8,224.4 478.9,222.8 476.3,221.1 474.4,218.9 472.5,217.7 471.0,218.9 469.3,223.1 467.4,225.9 465.4,228.8 463.5,232.0 461.6,232.7 459.9,234.0 458.4,239.1 457.1,237.2 455.8,236.5 453.2,238.2 451.3,239.1 449.6,235.9 448.1,232.7 446.2,230.1 444.3,226.9 441.9,228.8 440.1,227.5 438.5,223.1 436.6,220.5 434.0,218.2 431.4,217.7 429.3,215.1 428.0,209.6 426.7,203.5 425.6,198.2 423.9,202.0 422.0,207.8 420.0,209.1 418.4,205.2 416.8,202.7 414.9,200.1 413.6,195.0 411.7,194.1 409.8,193.1 407.8,192.4 406.3,194.3 404.6,196.9 403.0,192.4 401.2,186.6 399.5,182.1 396.9,182.8 395.4,180.4 394.3,175.9 392.8,174.6 390.9,173.3 388.9,171.4 387.0,169.5 385.7,170.1 383.8,170.8 381.9,168.2 380.2,161.8 378.7,159.8 376.7,160.5 375.1,165.0 373.5,170.8 371.6,168.8 369.7,169.5 367.8,168.8 366.5,163.7 364.6,164.3 362.6,166.6 360.1,161.8 358.1,157.3 355.6,158.2 353.5,158.1 351.4,159.3 349.7,158.1 347.8,158.7 345.8,161.3 343.9,160.6 342.0,159.3 340.3,156.8 338.8,153.9 336.2,154.2 334.3,156.1 333.0,161.3 331.7,169.6 330.8,177.3 329.8,173.5 328.5,169.6 327.2,167.7 325.3,168.3 323.6,166.4 321.5,164.5 319.5,165.8 318.0,165.1 317.0,161.3 316.1,150.4 315.0,143.3 313.4,148.4 312.1,144.2 310.8,150.4 309.5,158.1 308.0,163.2 306.0,169.6 304.8,176.0 302.8,179.8 300.9,181.8 299.6,186.8 298.0,194.5 296.0,195.1 294.1,197.7 292.2,200.9 290.9,203.5 289.4,200.9 288.3,192.5 287.0,185.5 285.1,181.6 283.5,180.4 281.9,181.0 280.0,182.7 277.4,183.2 275.5,184.8 273.6,182.9 271.6,181.0 269.1,182.3 267.2,185.5 265.2,188.1 263.3,186.1 261.4,184.2 259.4,186.8 257.3,190.0 255.6,189.3 253.7,186.1 252.1,183.2 250.5,188.1 248.8,194.5 247.5,200.8 246.0,202.2 244.0,200.8 241.5,199.6 240.2,191.3 237.6,191.6 235.0,192.5 232.5,195.8 230.6,204.8 229.6,207.8 228.0,212.8 225.0,213.8 220.0,213.2 217.0,213.8 215.0,217.8 212.4,223.8 210.0,226.8 209.0,231.8 205.8,234.8 204.6,251.8 203.2,255.8 201.0,259.8 199.0,258.8 194.0,259.3 190.5,258.8 189.0,255.8 187.0,252.4 185.0,252.8 183.0,255.3 181.0,259.8 179.0,257.8 177.4,259.8 176.0,264.8 174.6,258.8 173.6,255.8 172.0,263.8 170.6,264.8 169.0,261.2 167.0,259.8 165.0,260.8 163.6,265.8 162.0,268.8 160.0,260.8 158.6,252.8 156.6,265.8 155.0,261.8 153.6,254.8 152.0,267.8 149.0,271.8 146.0,272.8 143.0,274.8 138.0,276.8 135.0,279.8 132.0,279.2 130.0,281.2 127.0,281.2 125.0,279.2 123.0,280.8 119.0,281.2 115.0,279.8 110.0,280.8 106.0,277.8 103.0,272.8 100.0,271.8 98.2,268.8 96.2,266.9 94.3,264.3 93.0,261.1 91.7,257.9 90.1,254.0 88.8,250.8 87.5,253.4 86.0,252.1 84.0,249.5 81.9,248.9 80.6,244.4 79.3,241.2 77.6,239.9 76.3,241.8 75.1,238.6 73.8,240.6 72.5,235.4 71.2,230.3 69.9,225.8 68.0,222.5 64.8,218.0 62.3,213.5 59.7,209.6 57.8,204.5 55.6,201.7"/>
</g>
<polyline fill="none" stroke="#414c57" stroke-width="1.35" stroke-linejoin="round" points="55.6,187.9 57.8,190.7 59.7,195.8 62.3,199.7 64.8,204.2 68.0,208.7 69.9,212.0 71.2,216.5 72.5,221.6 73.8,226.8 75.1,224.8 76.3,228.0 77.6,226.1 79.3,227.4 80.6,230.6 81.9,235.1 84.0,235.7 86.0,238.3 87.5,239.6 88.8,237.0 90.1,240.2 91.7,244.1 93.0,247.3 94.3,250.5 96.2,253.1 98.2,255.0 100.0,258.0 103.0,259.0 106.0,264.0 110.0,267.0 115.0,266.0 119.0,267.4 123.0,267.0 125.0,265.4 127.0,267.4 130.0,267.4 132.0,265.4 135.0,266.0 138.0,263.0 143.0,261.0 146.0,259.0 149.0,258.0 152.0,254.0 153.6,241.0 155.0,248.0 156.6,252.0 158.6,239.0 160.0,247.0 162.0,255.0 163.6,252.0 165.0,247.0 167.0,246.0 169.0,247.4 170.6,251.0 172.0,250.0 173.6,242.0 174.6,245.0 176.0,251.0 177.4,246.0 179.0,244.0 181.0,246.0 183.0,241.5 185.0,239.0 187.0,238.6 189.0,242.0 190.5,245.0 194.0,245.5 199.0,245.0 201.0,246.0 203.2,242.0 204.6,238.0 205.8,221.0 209.0,218.0 210.0,213.0 212.4,210.0 215.0,204.0 217.0,200.0 220.0,199.4 225.0,200.0 228.0,199.0 229.6,194.0 230.6,191.0 232.5,182.0 235.0,178.7 237.6,177.8 240.2,177.5 241.5,185.8 244.0,187.0 246.0,188.4 247.5,187.0 248.8,180.7 250.5,174.3 252.1,169.4 253.7,172.3 255.6,175.5 257.3,176.2 259.4,173.0 261.4,170.4 263.3,172.3 265.2,174.3 267.2,171.7 269.1,168.5 271.6,167.2 273.6,169.1 275.5,171.0 277.4,169.4 280.0,168.9 281.9,167.2 283.5,166.6 285.1,167.8 287.0,171.7 288.3,178.7 289.4,187.1 290.9,189.7 292.2,187.1 294.1,183.9 296.0,181.3 298.0,180.7 299.6,173.0 300.9,168.0 302.8,166.0 304.8,162.2 306.0,155.8 308.0,149.4 309.5,144.3 310.8,136.6 312.1,130.4 313.4,134.6 315.0,129.5 316.1,136.6 317.0,147.5 318.0,151.3 319.5,152.0 321.5,150.7 323.6,152.6 325.3,154.5 327.2,153.9 328.5,155.8 329.8,159.7 330.8,163.5 331.7,155.8 333.0,147.5 334.3,142.3 336.2,140.4 338.8,140.1 340.3,143.0 342.0,145.5 343.9,146.8 345.8,147.5 347.8,144.9 349.7,144.3 351.4,145.5 353.5,144.3 355.6,144.4 358.1,143.5 360.1,148.0 362.6,152.8 364.6,150.5 366.5,149.9 367.8,155.0 369.7,155.7 371.6,155.0 373.5,157.0 375.1,151.2 376.7,146.7 378.7,146.0 380.2,148.0 381.9,154.4 383.8,157.0 385.7,156.3 387.0,155.7 388.9,157.6 390.9,159.5 392.8,160.8 394.3,162.1 395.4,166.6 396.9,169.0 399.5,168.3 401.2,172.8 403.0,178.6 404.6,183.1 406.3,180.5 407.8,178.6 409.8,179.3 411.7,180.3 413.6,181.2 414.9,186.3 416.8,188.9 418.4,191.4 420.0,195.3 422.0,194.0 423.9,188.2 425.6,184.4 426.7,189.7 428.0,195.8 429.3,201.3 431.4,203.9 434.0,204.4 436.6,206.7 438.5,209.3 440.1,213.7 441.9,215.0 444.3,213.1 446.2,216.3 448.1,218.9 449.6,222.1 451.3,225.3 453.2,224.4 455.8,222.7 457.1,223.4 458.4,225.3 459.9,220.2 461.6,218.9 463.5,218.2 465.4,215.0 467.4,212.1 469.3,209.3 471.0,205.1 472.5,203.9 474.4,205.1 476.3,207.3 478.9,209.0 480.8,210.6 482.6,213.2 484.3,214.2 486.3,220.0 488.1,220.2 489.6,226.5 490.5,227.9 492.3,225.1 494.9,223.2 497.3,223.0 499.0,226.2 500.5,230.0 502.9,233.2 505.6,235.3 508.2,236.7 510.5,235.1 512.7,232.1 514.8,231.5 517.1,232.7 519.0,236.0 520.4,240.4 522.5,243.6 524.3,248.0 526.5,252.1 529.2,253.8 532.5,254.5 535.3,252.7 538.1,252.1 539.7,253.8 541.4,256.5 542.8,258.5"/>
<g stroke="#ff0000" stroke-width="2.1" stroke-linecap="round" fill="none"><path d="M56.4 188.1L58.3 188.6"/><path d="M60.6 196.5L61.7 199.6"/><path d="M65.0 202.7L66.7 206.0"/><path d="M71.6 211.3L73.2 214.5"/><path d="M75.7 222.2L77.5 223.9"/><path d="M80.6 226.2L82.0 229.3"/><path d="M84.5 236.7L86.8 239.9"/><path d="M91.4 242.8L93.7 245.0"/><path d="M97.2 250.5L99.1 253.5"/><path d="M103.6 259.6L105.4 261.4"/><path d="M111.4 266.6L114.6 267.2"/><path d="M121.8 267.5L126.2 267.9"/><path d="M132.8 266.4L135.2 265.8"/><path d="M141.4 262.3L144.2 261.3"/><path d="M150.1 257.6L153.3 256.0"/><path d="M159.7 253.0L161.9 254.2"/><path d="M168.8 252.4L172.2 251.2"/><path d="M178.8 251.4L182.6 250.6"/><path d="M187.6 248.8L190.8 247.2"/><path d="M197.0 245.3L200.6 247.0"/><path d="M205.7 243.5L207.9 240.3"/><path d="M211.6 233.8L213.8 230.5"/><path d="M216.7 223.2L217.7 220.2"/><path d="M219.9 213.3L221.7 209.3"/><path d="M225.1 201.6L227.7 199.8"/><path d="M233.0 198.7L234.9 195.9"/><path d="M237.3 189.0L238.6 185.5"/><path d="M240.0 177.1L242.1 178.1"/><path d="M246.5 177.3L248.7 180.6"/><path d="M251.2 186.7L254.5 185.2"/><path d="M257.5 177.7L258.6 174.4"/><path d="M261.3 170.3L264.6 173.1"/><path d="M268.7 168.1L269.7 167.6"/><path d="M275.3 171.6L277.4 168.5"/><path d="M282.0 164.5L285.7 166.0"/><path d="M290.0 168.2L291.4 166.0"/><path d="M294.6 172.4L296.8 175.5"/><path d="M299.3 176.2L300.7 171.8"/><path d="M302.5 164.1L304.1 160.4"/><path d="M306.0 152.3L307.0 149.4"/><path d="M313.1 145.8L316.1 147.9"/><path d="M320.7 146.1L322.6 143.4"/><path d="M325.9 147.4L327.0 151.2"/><path d="M330.8 154.5L333.0 151.4"/><path d="M337.9 147.4L339.7 144.7"/><path d="M344.9 142.4L346.2 145.5"/><path d="M351.4 148.7L353.1 146.2"/><path d="M356.3 140.2L358.4 141.9"/><path d="M363.0 145.5L364.4 148.6"/><path d="M367.4 154.5L368.7 158.1"/><path d="M371.9 161.4L373.0 158.3"/><path d="M376.8 160.1L378.0 157.4"/><path d="M384.0 158.7L385.3 159.1"/><path d="M392.1 160.9L393.9 161.1"/><path d="M399.2 161.7L400.1 159.7"/><path d="M403.7 160.4L405.5 163.5"/><path d="M407.2 171.6L409.2 174.5"/><path d="M412.5 181.1L414.7 180.6"/><path d="M417.5 188.3L419.6 191.4"/><path d="M424.3 197.9L426.1 201.0"/><path d="M429.8 202.2L431.8 198.8"/><path d="M435.9 197.1L438.5 199.8"/><path d="M441.4 207.4L443.2 210.5"/><path d="M446.6 217.0L448.7 220.8"/><path d="M452.8 219.3L455.5 217.2"/><path d="M461.1 218.2L464.0 218.7"/><path d="M466.9 212.0L469.6 210.0"/><path d="M474.7 209.1L477.6 207.1"/><path d="M482.0 210.0L484.5 212.9"/><path d="M488.9 216.2L491.2 213.5"/><path d="M494.9 219.3L497.2 222.4"/><path d="M502.1 228.4L504.6 231.1"/><path d="M509.1 236.2L511.2 234.0"/><path d="M517.6 233.6L519.8 236.4"/><path d="M523.5 243.6L525.7 246.2"/><path d="M531.4 250.5L534.4 252.6"/><path d="M540.7 254.7L542.5 254.0"/></g>
</g>
<g stroke="#5a5a5a" stroke-width="1.2" fill="none">
<line x1="55.3" y1="31.9" x2="55.3" y2="285.6"/>
<line x1="55.3" y1="285.6" x2="543.2" y2="285.6"/>
<line x1="51.1" y1="285.6" x2="55.3" y2="285.6"/><line x1="51.1" y1="234.9" x2="55.3" y2="234.9"/><line x1="51.1" y1="184.1" x2="55.3" y2="184.1"/><line x1="51.1" y1="133.4" x2="55.3" y2="133.4"/><line x1="51.1" y1="82.6" x2="55.3" y2="82.6"/><line x1="51.1" y1="31.9" x2="55.3" y2="31.9"/>
<line x1="55.3" y1="285.6" x2="55.3" y2="289.8"/><line x1="89.3" y1="285.6" x2="89.3" y2="289.8"/><line x1="123.3" y1="285.6" x2="123.3" y2="289.8"/><line x1="157.3" y1="285.6" x2="157.3" y2="289.8"/><line x1="191.3" y1="285.6" x2="191.3" y2="289.8"/><line x1="225.3" y1="285.6" x2="225.3" y2="289.8"/><line x1="259.3" y1="285.6" x2="259.3" y2="289.8"/><line x1="293.3" y1="285.6" x2="293.3" y2="289.8"/><line x1="327.3" y1="285.6" x2="327.3" y2="289.8"/><line x1="361.3" y1="285.6" x2="361.3" y2="289.8"/><line x1="395.3" y1="285.6" x2="395.3" y2="289.8"/><line x1="429.3" y1="285.6" x2="429.3" y2="289.8"/><line x1="463.3" y1="285.6" x2="463.3" y2="289.8"/><line x1="497.3" y1="285.6" x2="497.3" y2="289.8"/><line x1="531.3" y1="285.6" x2="531.3" y2="289.8"/>
</g>
<g class="tick"><text transform="translate(42.7,290.2) scale(1,1.06)" text-anchor="end">0</text><text transform="translate(42.7,239.5) scale(1,1.06)" text-anchor="end">50</text><text transform="translate(42.7,188.7) scale(1,1.06)" text-anchor="end">100</text><text transform="translate(42.7,138.0) scale(1,1.06)" text-anchor="end">150</text><text transform="translate(42.7,87.2) scale(1,1.06)" text-anchor="end">200</text><text transform="translate(42.7,36.5) scale(1,1.06)" text-anchor="end">250</text><text transform="translate(54.9,306.6) scale(1,1.06)" text-anchor="middle">1</text><text transform="translate(88.9,306.6) scale(1,1.06)" text-anchor="middle">21</text><text transform="translate(122.9,306.6) scale(1,1.06)" text-anchor="middle">41</text><text transform="translate(156.9,306.6) scale(1,1.06)" text-anchor="middle">61</text><text transform="translate(190.9,306.6) scale(1,1.06)" text-anchor="middle">81</text><text transform="translate(224.9,306.6) scale(1,1.06)" text-anchor="middle">101</text><text transform="translate(258.9,306.6) scale(1,1.06)" text-anchor="middle">121</text><text transform="translate(292.9,306.6) scale(1,1.06)" text-anchor="middle">141</text><text transform="translate(326.9,306.6) scale(1,1.06)" text-anchor="middle">161</text><text transform="translate(360.9,306.6) scale(1,1.06)" text-anchor="middle">181</text><text transform="translate(394.9,306.6) scale(1,1.06)" text-anchor="middle">201</text><text transform="translate(428.9,306.6) scale(1,1.06)" text-anchor="middle">221</text><text transform="translate(462.9,306.6) scale(1,1.06)" text-anchor="middle">241</text><text transform="translate(496.9,306.6) scale(1,1.06)" text-anchor="middle">261</text><text transform="translate(530.9,306.6) scale(1,1.06)" text-anchor="middle">281</text></g>
<g class="leg"><rect x="63.0" y="5.4" width="22" height="5.6" fill="#74bcfc"/><text x="87.4" y="12.0">Confidence interval (99%)</text><rect x="226.3" y="5.4" width="22" height="5.6" fill="#52affc"/><text x="251.6" y="12.0">Confidence interval (98%)</text><rect x="390.0" y="5.4" width="22" height="5.6" fill="#33a5fc"/><text x="414.8" y="12.0">Confidence interval (95%)</text><rect x="63.0" y="18.6" width="22" height="5.6" fill="#1e9bfc"/><text x="87.4" y="25.2">Confidence interval (90%)</text><rect x="226.3" y="18.6" width="22" height="5.6" fill="#1a93fb"/><text x="251.6" y="25.2">Confidence interval (85%)</text><rect x="390.0" y="18.6" width="22" height="5.6" fill="#148bfa"/><text x="414.8" y="25.2">Confidence interval (80%)</text><rect x="63.0" y="31.8" width="22" height="5.6" fill="#107ff6"/><text x="87.4" y="38.4">Confidence interval (75%)</text><rect x="226.3" y="31.8" width="22" height="5.6" fill="#0d76f0"/><text x="251.6" y="38.4">Confidence interval (70%)</text><rect x="390.0" y="31.8" width="22" height="5.6" fill="#0b6ae4"/><text x="414.8" y="38.4">Confidence interval (65%)</text><line x1="63" y1="47.3" x2="85" y2="47.3" stroke="#3a3f45" stroke-width="1.2"/><text x="87.4" y="51.2">Predict power</text><line x1="226.2" y1="47.3" x2="248.2" y2="47.3" stroke="#ff0000" stroke-width="1.8" stroke-dasharray="4.9,6.8" stroke-linecap="round"/><text x="251.6" y="51.2">Actual power</text></g>
<text class="title" x="295.3" y="327.8" text-anchor="middle">Sample points / 5min</text>
<text class="title" transform="translate(13.8,166.9) rotate(-90)" text-anchor="middle">Active power / kW</text>
</svg>
</body></html>
